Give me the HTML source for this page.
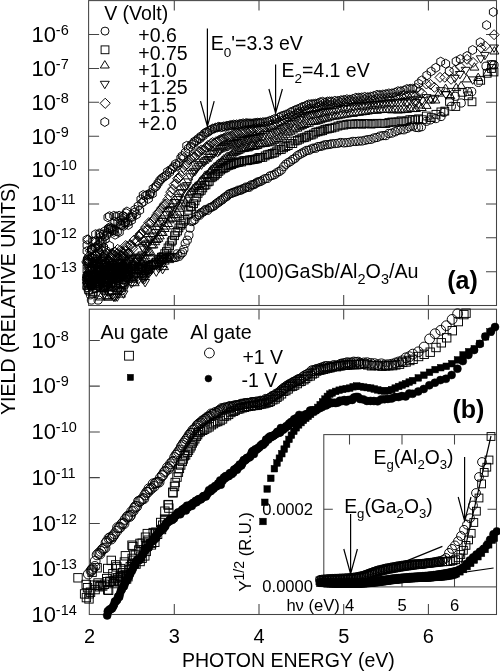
<!DOCTYPE html>
<html><head><meta charset="utf-8"><title>Photoemission yield</title>
<style>
html,body{margin:0;padding:0;background:#fff;}
svg{display:block;}
text{font-family:'Liberation Sans', Arial, Helvetica, sans-serif;fill:#000;}
.mk{fill:none;stroke:#000;stroke-width:0.95;}
.mkf{fill:#000;stroke:#000;stroke-width:0.5;}
.ax{fill:none;stroke:#444;stroke-width:1.05;}
.ln{fill:none;stroke:#000;stroke-width:1.2;}
</style></head>
<body>
<svg width="500" height="672" viewBox="0 0 500 672">
<rect width="500" height="672" fill="#fff"/>
<rect class="ax" x="88.6" y="0.6" width="407.9" height="304.9"/>
<path class="ax" d="M88.6 34.5h10.5M496.5 34.5h-10.5M88.6 68.4h10.5M496.5 68.4h-10.5M88.6 102.3h10.5M496.5 102.3h-10.5M88.6 136.2h10.5M496.5 136.2h-10.5M88.6 170.0h10.5M496.5 170.0h-10.5M88.6 203.9h10.5M496.5 203.9h-10.5M88.6 237.8h10.5M496.5 237.8h-10.5M88.6 271.7h10.5M496.5 271.7h-10.5M174.3 0.6v10M174.3 305.5v-10.5M259.0 0.6v10M259.0 305.5v-10.5M343.7 0.6v10M343.7 305.5v-10.5M428.4 0.6v10M428.4 305.5v-10.5"/>
<text x="31.6" y="41.8" font-size="22">10</text><text x="55.8" y="34.8" font-size="14.5">-6</text>
<text x="31.6" y="75.7" font-size="22">10</text><text x="55.8" y="68.7" font-size="14.5">-7</text>
<text x="31.6" y="109.6" font-size="22">10</text><text x="55.8" y="102.6" font-size="14.5">-8</text>
<text x="31.6" y="143.5" font-size="22">10</text><text x="55.8" y="136.5" font-size="14.5">-9</text>
<text x="31.6" y="177.3" font-size="22">10</text><text x="55.8" y="170.3" font-size="14.5">-10</text>
<text x="31.6" y="211.2" font-size="22">10</text><text x="55.8" y="204.2" font-size="14.5">-11</text>
<text x="31.6" y="245.1" font-size="22">10</text><text x="55.8" y="238.1" font-size="14.5">-12</text>
<text x="31.6" y="279.0" font-size="22">10</text><text x="55.8" y="272.0" font-size="14.5">-13</text>
<rect class="ax" x="89.3" y="309.2" width="407.2" height="305.3"/>
<path class="ax" d="M89.3 340.4h10.5M89.3 386.1h10.5M89.3 431.9h10.5M89.3 477.6h10.5M89.3 523.4h10.5M89.3 569.1h10.5M174.3 309.2v10.3M174.3 614.5v-10.5M259.0 309.2v10.3M259.0 614.5v-10.5M343.7 309.2v10.3M343.7 614.5v-10.5M428.4 309.2v10.3M428.4 614.5v-10.5"/>
<text x="31.6" y="347.7" font-size="22">10</text><text x="55.8" y="340.7" font-size="14.5">-8</text>
<text x="31.6" y="393.4" font-size="22">10</text><text x="55.8" y="386.4" font-size="14.5">-9</text>
<text x="31.6" y="439.2" font-size="22">10</text><text x="55.8" y="432.2" font-size="14.5">-10</text>
<text x="31.6" y="484.9" font-size="22">10</text><text x="55.8" y="477.9" font-size="14.5">-11</text>
<text x="31.6" y="530.7" font-size="22">10</text><text x="55.8" y="523.7" font-size="14.5">-12</text>
<text x="31.6" y="576.4" font-size="22">10</text><text x="55.8" y="569.4" font-size="14.5">-13</text>
<text x="31.6" y="622.2" font-size="22">10</text><text x="55.8" y="615.2" font-size="14.5">-14</text>
<text x="89.6" y="642.6" font-size="20" text-anchor="middle">2</text>
<text x="174.3" y="642.6" font-size="20" text-anchor="middle">3</text>
<text x="259.0" y="642.6" font-size="20" text-anchor="middle">4</text>
<text x="343.7" y="642.6" font-size="20" text-anchor="middle">5</text>
<text x="428.4" y="642.6" font-size="20" text-anchor="middle">6</text>
<text x="182" y="667.4" font-size="19.5">PHOTON ENERGY (eV)</text>
<text transform="translate(14.6,415) rotate(-90)" font-size="19.6">YIELD (RELATIVE UNITS)</text>
<text x="104.2" y="19.6" font-size="19.5">V (Volt)</text>
<text x="138.3" y="41.6" font-size="19.5">+0.6</text>
<text x="138.3" y="59.5" font-size="19.5">+0.75</text>
<text x="138.3" y="76.8" font-size="19.5">+1.0</text>
<text x="138.3" y="94.1" font-size="19.5">+1.25</text>
<text x="138.3" y="111.7" font-size="19.5">+1.5</text>
<text x="138.3" y="129.6" font-size="19.5">+2.0</text>
<g class="mk"><circle cx="105.0" cy="31.1" r="4.00"/><rect x="101.1" y="45.9" width="7.8" height="7.8"/><path d="M104.8 60.6L109.3 68.0H100.3Z"/><path d="M104.8 88.7L109.3 81.3H100.3Z"/><path d="M105.2 98.2L110.3 103.3L105.2 108.4L100.1 103.3Z"/><path d="M104.8 117.5L108.7 119.8V124.2L104.8 126.5L100.9 124.2V119.8Z"/></g>
<path class="ln" stroke-width="1.3" d="M207.4 28.4V126.4M200.5 101.2L207.4 126.4L214.2 101.2M275.6 64.5V113.1M268.9 89L275.6 113.1L282.4 89"/>
<text x="210.8" y="50.2" font-size="19.5">E<tspan font-size="13.5" dy="6.4">0</tspan><tspan dy="-6.4">'=3.3 eV</tspan></text>
<text x="281.4" y="77" font-size="19.5">E<tspan font-size="13.5" dy="6.4">2</tspan><tspan dy="-6.4">=4.1 eV</tspan></text>
<text x="238.2" y="278.3" font-size="19.7">(100)GaSb/Al<tspan font-size="14.5" dy="5.3">2</tspan><tspan dy="-5.3">O</tspan><tspan font-size="14.5" dy="5.3">3</tspan><tspan dy="-5.3">/Au</tspan></text>
<text x="447.3" y="289.3" font-size="25" font-weight="bold">(a)</text>
<text x="100.5" y="339.4" font-size="19.7">Au gate</text>
<text x="190.3" y="339.2" font-size="19.7">Al gate</text>
<text x="242.4" y="363.6" font-size="19.5">+1 V</text>
<text x="241.4" y="387" font-size="19.5">-1 V</text>
<g class="mk"><rect x="124.6" y="351.3" width="8.8" height="8.8"/><circle cx="209.4" cy="353.0" r="4.90"/></g>
<g class="mkf"><rect x="127.3" y="374.3" width="6.2" height="6.2"/><circle cx="208.4" cy="378.6" r="3.40"/></g>
<text x="452.5" y="418.3" font-size="25" font-weight="bold">(b)</text>
<g class="mk"><circle cx="87.8" cy="276.2" r="4.10"/><circle cx="87.0" cy="287.4" r="4.10"/><circle cx="87.0" cy="275.5" r="4.10"/><circle cx="87.8" cy="284.2" r="4.10"/><circle cx="87.0" cy="276.3" r="4.10"/><circle cx="88.2" cy="275.8" r="4.10"/><circle cx="90.4" cy="294.8" r="4.10"/><circle cx="88.4" cy="291.0" r="4.10"/><circle cx="91.4" cy="300.0" r="4.10"/><circle cx="91.9" cy="282.4" r="4.10"/><circle cx="92.1" cy="284.9" r="4.10"/><circle cx="90.9" cy="285.2" r="4.10"/><circle cx="91.4" cy="285.9" r="4.10"/><circle cx="93.7" cy="288.6" r="4.10"/><circle cx="94.5" cy="272.7" r="4.10"/><circle cx="95.5" cy="288.5" r="4.10"/><circle cx="95.4" cy="274.8" r="4.10"/><circle cx="95.4" cy="284.0" r="4.10"/><circle cx="98.1" cy="300.0" r="4.10"/><circle cx="98.2" cy="283.6" r="4.10"/><circle cx="97.2" cy="282.1" r="4.10"/><circle cx="97.0" cy="287.8" r="4.10"/><circle cx="100.4" cy="284.4" r="4.10"/><circle cx="99.4" cy="277.7" r="4.10"/><circle cx="98.6" cy="294.7" r="4.10"/><circle cx="100.0" cy="280.6" r="4.10"/><circle cx="103.3" cy="289.1" r="4.10"/><circle cx="101.8" cy="280.0" r="4.10"/><circle cx="103.8" cy="290.6" r="4.10"/><circle cx="102.6" cy="286.9" r="4.10"/><circle cx="105.6" cy="287.6" r="4.10"/><circle cx="105.5" cy="285.9" r="4.10"/><circle cx="103.9" cy="286.3" r="4.10"/><circle cx="104.4" cy="285.9" r="4.10"/><circle cx="106.6" cy="284.1" r="4.10"/><circle cx="106.8" cy="279.8" r="4.10"/><circle cx="106.4" cy="286.1" r="4.10"/><circle cx="108.7" cy="290.9" r="4.10"/><circle cx="107.9" cy="286.9" r="4.10"/><circle cx="108.7" cy="286.4" r="4.10"/><circle cx="109.4" cy="291.8" r="4.10"/><circle cx="111.8" cy="281.0" r="4.10"/><circle cx="112.3" cy="283.8" r="4.10"/><circle cx="112.2" cy="287.3" r="4.10"/><circle cx="111.6" cy="294.4" r="4.10"/><circle cx="112.3" cy="290.9" r="4.10"/><circle cx="113.0" cy="282.8" r="4.10"/><circle cx="113.0" cy="277.9" r="4.10"/><circle cx="114.1" cy="287.3" r="4.10"/><circle cx="115.7" cy="285.2" r="4.10"/><circle cx="117.3" cy="278.3" r="4.10"/><circle cx="116.6" cy="285.3" r="4.10"/><circle cx="116.3" cy="273.5" r="4.10"/><circle cx="116.9" cy="277.4" r="4.10"/><circle cx="117.7" cy="288.2" r="4.10"/><circle cx="118.2" cy="276.8" r="4.10"/><circle cx="118.8" cy="280.4" r="4.10"/><circle cx="121.4" cy="270.9" r="4.10"/><circle cx="120.6" cy="285.0" r="4.10"/><circle cx="120.4" cy="276.9" r="4.10"/><circle cx="121.4" cy="290.7" r="4.10"/><circle cx="123.1" cy="282.9" r="4.10"/><circle cx="123.4" cy="279.9" r="4.10"/><circle cx="123.3" cy="287.4" r="4.10"/><circle cx="123.4" cy="282.7" r="4.10"/><circle cx="124.4" cy="285.2" r="4.10"/><circle cx="125.9" cy="272.6" r="4.10"/><circle cx="125.7" cy="276.7" r="4.10"/><circle cx="125.7" cy="281.3" r="4.10"/><circle cx="126.9" cy="277.7" r="4.10"/><circle cx="127.3" cy="277.6" r="4.10"/><circle cx="128.3" cy="279.0" r="4.10"/><circle cx="129.5" cy="276.5" r="4.10"/><circle cx="131.8" cy="277.0" r="4.10"/><circle cx="132.6" cy="281.9" r="4.10"/><circle cx="133.6" cy="276.3" r="4.10"/><circle cx="133.7" cy="276.8" r="4.10"/><circle cx="136.5" cy="276.4" r="4.10"/><circle cx="136.2" cy="273.2" r="4.10"/><circle cx="138.4" cy="268.4" r="4.10"/><circle cx="139.1" cy="270.2" r="4.10"/><circle cx="141.3" cy="274.1" r="4.10"/><circle cx="142.1" cy="275.7" r="4.10"/><circle cx="143.5" cy="273.8" r="4.10"/><circle cx="144.6" cy="271.7" r="4.10"/><circle cx="145.9" cy="268.3" r="4.10"/><circle cx="147.0" cy="269.1" r="4.10"/><circle cx="148.2" cy="271.9" r="4.10"/><circle cx="149.3" cy="266.7" r="4.10"/><circle cx="150.3" cy="269.4" r="4.10"/><circle cx="151.9" cy="266.0" r="4.10"/><circle cx="153.5" cy="264.7" r="4.10"/><circle cx="155.2" cy="265.0" r="4.10"/><circle cx="156.7" cy="263.1" r="4.10"/><circle cx="158.3" cy="261.3" r="4.10"/><circle cx="159.8" cy="259.6" r="4.10"/><circle cx="161.2" cy="258.0" r="4.10"/><circle cx="163.1" cy="259.1" r="4.10"/><circle cx="164.6" cy="259.2" r="4.10"/><circle cx="166.1" cy="258.0" r="4.10"/><circle cx="167.9" cy="257.3" r="4.10"/><circle cx="169.6" cy="256.5" r="4.10"/><circle cx="170.9" cy="257.5" r="4.10"/><circle cx="172.7" cy="257.6" r="4.10"/><circle cx="174.5" cy="257.4" r="4.10"/><circle cx="175.9" cy="257.5" r="4.10"/><circle cx="177.3" cy="253.9" r="4.10"/><circle cx="179.1" cy="256.3" r="4.10"/><circle cx="180.8" cy="254.1" r="4.10"/><circle cx="182.5" cy="252.6" r="4.10"/><circle cx="183.9" cy="249.4" r="4.10"/><circle cx="185.2" cy="243.5" r="4.10"/><circle cx="187.3" cy="240.2" r="4.10"/><circle cx="188.9" cy="235.3" r="4.10"/><circle cx="190.0" cy="228.0" r="4.10"/><circle cx="191.6" cy="221.5" r="4.10"/><circle cx="193.2" cy="220.7" r="4.10"/><circle cx="194.9" cy="219.5" r="4.10"/><circle cx="196.5" cy="216.4" r="4.10"/><circle cx="198.4" cy="214.7" r="4.10"/><circle cx="199.5" cy="215.2" r="4.10"/><circle cx="201.1" cy="212.8" r="4.10"/><circle cx="203.1" cy="212.0" r="4.10"/><circle cx="204.6" cy="210.6" r="4.10"/><circle cx="206.0" cy="209.4" r="4.10"/><circle cx="207.6" cy="210.3" r="4.10"/><circle cx="209.5" cy="208.0" r="4.10"/><circle cx="210.9" cy="207.4" r="4.10"/><circle cx="212.6" cy="206.6" r="4.10"/><circle cx="214.2" cy="205.7" r="4.10"/><circle cx="215.9" cy="204.0" r="4.10"/><circle cx="217.5" cy="202.9" r="4.10"/><circle cx="219.0" cy="202.0" r="4.10"/><circle cx="220.5" cy="200.5" r="4.10"/><circle cx="222.2" cy="199.8" r="4.10"/><circle cx="223.7" cy="198.2" r="4.10"/><circle cx="225.4" cy="197.0" r="4.10"/><circle cx="227.0" cy="196.2" r="4.10"/><circle cx="228.6" cy="194.4" r="4.10"/><circle cx="230.3" cy="193.5" r="4.10"/><circle cx="231.9" cy="193.2" r="4.10"/><circle cx="233.4" cy="192.3" r="4.10"/><circle cx="235.0" cy="192.0" r="4.10"/><circle cx="236.7" cy="191.4" r="4.10"/><circle cx="238.3" cy="190.2" r="4.10"/><circle cx="239.9" cy="190.3" r="4.10"/><circle cx="241.4" cy="189.8" r="4.10"/><circle cx="242.9" cy="188.8" r="4.10"/><circle cx="244.6" cy="188.2" r="4.10"/><circle cx="246.2" cy="187.1" r="4.10"/><circle cx="247.9" cy="187.3" r="4.10"/><circle cx="249.5" cy="187.1" r="4.10"/><circle cx="251.0" cy="185.1" r="4.10"/><circle cx="252.7" cy="184.8" r="4.10"/><circle cx="254.1" cy="184.5" r="4.10"/><circle cx="255.8" cy="183.3" r="4.10"/><circle cx="257.4" cy="182.2" r="4.10"/><circle cx="258.9" cy="181.8" r="4.10"/><circle cx="260.7" cy="181.3" r="4.10"/><circle cx="262.8" cy="180.0" r="4.10"/><circle cx="265.1" cy="178.7" r="4.10"/><circle cx="267.4" cy="178.4" r="4.10"/><circle cx="269.9" cy="176.1" r="4.10"/><circle cx="272.1" cy="175.4" r="4.10"/><circle cx="274.5" cy="174.6" r="4.10"/><circle cx="276.6" cy="172.9" r="4.10"/><circle cx="279.0" cy="171.6" r="4.10"/><circle cx="281.3" cy="170.0" r="4.10"/><circle cx="283.7" cy="166.7" r="4.10"/><circle cx="285.9" cy="164.3" r="4.10"/><circle cx="288.3" cy="162.6" r="4.10"/><circle cx="290.6" cy="161.3" r="4.10"/><circle cx="292.9" cy="159.4" r="4.10"/><circle cx="295.1" cy="158.2" r="4.10"/><circle cx="297.4" cy="155.8" r="4.10"/><circle cx="299.7" cy="154.4" r="4.10"/><circle cx="302.1" cy="153.1" r="4.10"/><circle cx="304.3" cy="151.9" r="4.10"/><circle cx="306.6" cy="150.4" r="4.10"/><circle cx="308.9" cy="150.3" r="4.10"/><circle cx="311.2" cy="149.0" r="4.10"/><circle cx="313.5" cy="148.1" r="4.10"/><circle cx="315.8" cy="148.2" r="4.10"/><circle cx="318.1" cy="146.6" r="4.10"/><circle cx="320.5" cy="146.4" r="4.10"/><circle cx="322.8" cy="145.8" r="4.10"/><circle cx="324.9" cy="144.8" r="4.10"/><circle cx="327.3" cy="144.7" r="4.10"/><circle cx="329.7" cy="144.4" r="4.10"/><circle cx="331.8" cy="143.8" r="4.10"/><circle cx="334.9" cy="143.6" r="4.10"/><circle cx="337.9" cy="143.3" r="4.10"/><circle cx="340.8" cy="142.5" r="4.10"/><circle cx="343.9" cy="142.9" r="4.10"/><circle cx="346.8" cy="142.6" r="4.10"/><circle cx="349.8" cy="142.3" r="4.10"/><circle cx="352.9" cy="141.4" r="4.10"/><circle cx="355.9" cy="141.5" r="4.10"/><circle cx="358.8" cy="141.1" r="4.10"/><circle cx="361.9" cy="141.0" r="4.10"/><circle cx="365.0" cy="140.3" r="4.10"/><circle cx="367.9" cy="139.6" r="4.10"/><circle cx="371.0" cy="139.3" r="4.10"/><circle cx="374.0" cy="138.0" r="4.10"/><circle cx="376.9" cy="137.5" r="4.10"/><circle cx="380.0" cy="136.1" r="4.10"/><circle cx="383.0" cy="135.6" r="4.10"/><circle cx="385.8" cy="135.6" r="4.10"/><circle cx="388.8" cy="133.5" r="4.10"/><circle cx="391.8" cy="133.1" r="4.10"/><circle cx="395.0" cy="131.8" r="4.10"/><circle cx="397.8" cy="130.5" r="4.10"/><circle cx="400.8" cy="129.7" r="4.10"/><circle cx="403.8" cy="129.8" r="4.10"/><circle cx="407.0" cy="128.4" r="4.10"/><circle cx="409.7" cy="126.8" r="4.10"/><circle cx="412.9" cy="126.1" r="4.10"/><circle cx="416.0" cy="127.4" r="4.10"/><circle cx="418.5" cy="127.6" r="4.10"/><circle cx="421.4" cy="126.7" r="4.10"/><circle cx="426.3" cy="121.3" r="4.10"/><circle cx="430.1" cy="119.9" r="4.10"/><circle cx="435.8" cy="118.6" r="4.10"/><circle cx="441.0" cy="116.5" r="4.10"/><circle cx="444.1" cy="112.3" r="4.10"/><circle cx="451.4" cy="106.3" r="4.10"/><circle cx="455.2" cy="96.3" r="4.10"/><circle cx="461.2" cy="103.0" r="4.10"/><circle cx="467.5" cy="91.5" r="4.10"/><circle cx="471.7" cy="91.6" r="4.10"/><circle cx="478.5" cy="82.4" r="4.10"/><circle cx="486.0" cy="66.2" r="4.10"/><circle cx="492.0" cy="64.6" r="4.10"/><circle cx="494.0" cy="65.0" r="4.10"/></g>
<g class="mk"><rect x="83.1" y="264.8" width="7.8" height="7.8"/><rect x="83.1" y="276.4" width="7.8" height="7.8"/><rect x="83.1" y="281.4" width="7.8" height="7.8"/><rect x="85.2" y="275.2" width="7.8" height="7.8"/><rect x="84.7" y="271.3" width="7.8" height="7.8"/><rect x="85.8" y="266.0" width="7.8" height="7.8"/><rect x="84.3" y="279.0" width="7.8" height="7.8"/><rect x="87.9" y="280.2" width="7.8" height="7.8"/><rect x="85.2" y="285.9" width="7.8" height="7.8"/><rect x="88.2" y="278.8" width="7.8" height="7.8"/><rect x="89.4" y="270.9" width="7.8" height="7.8"/><rect x="86.8" y="279.9" width="7.8" height="7.8"/><rect x="89.3" y="287.5" width="7.8" height="7.8"/><rect x="88.3" y="279.5" width="7.8" height="7.8"/><rect x="89.0" y="289.5" width="7.8" height="7.8"/><rect x="90.8" y="272.8" width="7.8" height="7.8"/><rect x="92.2" y="277.6" width="7.8" height="7.8"/><rect x="91.0" y="278.0" width="7.8" height="7.8"/><rect x="91.7" y="273.3" width="7.8" height="7.8"/><rect x="94.7" y="272.0" width="7.8" height="7.8"/><rect x="94.4" y="268.7" width="7.8" height="7.8"/><rect x="94.6" y="277.5" width="7.8" height="7.8"/><rect x="96.1" y="272.6" width="7.8" height="7.8"/><rect x="97.6" y="274.7" width="7.8" height="7.8"/><rect x="96.0" y="282.2" width="7.8" height="7.8"/><rect x="96.6" y="272.3" width="7.8" height="7.8"/><rect x="96.4" y="270.3" width="7.8" height="7.8"/><rect x="97.4" y="265.5" width="7.8" height="7.8"/><rect x="100.0" y="269.0" width="7.8" height="7.8"/><rect x="99.5" y="278.5" width="7.8" height="7.8"/><rect x="99.9" y="283.6" width="7.8" height="7.8"/><rect x="100.8" y="275.1" width="7.8" height="7.8"/><rect x="100.9" y="274.2" width="7.8" height="7.8"/><rect x="102.8" y="278.8" width="7.8" height="7.8"/><rect x="101.5" y="278.5" width="7.8" height="7.8"/><rect x="103.7" y="277.1" width="7.8" height="7.8"/><rect x="103.2" y="277.1" width="7.8" height="7.8"/><rect x="104.7" y="273.8" width="7.8" height="7.8"/><rect x="104.0" y="278.3" width="7.8" height="7.8"/><rect x="104.8" y="274.6" width="7.8" height="7.8"/><rect x="106.0" y="259.9" width="7.8" height="7.8"/><rect x="108.1" y="274.5" width="7.8" height="7.8"/><rect x="106.9" y="278.2" width="7.8" height="7.8"/><rect x="107.0" y="282.2" width="7.8" height="7.8"/><rect x="107.0" y="272.3" width="7.8" height="7.8"/><rect x="108.4" y="261.5" width="7.8" height="7.8"/><rect x="109.0" y="272.8" width="7.8" height="7.8"/><rect x="108.9" y="267.8" width="7.8" height="7.8"/><rect x="112.3" y="278.4" width="7.8" height="7.8"/><rect x="112.9" y="273.5" width="7.8" height="7.8"/><rect x="111.6" y="270.8" width="7.8" height="7.8"/><rect x="113.5" y="271.7" width="7.8" height="7.8"/><rect x="112.6" y="274.8" width="7.8" height="7.8"/><rect x="114.0" y="266.0" width="7.8" height="7.8"/><rect x="113.9" y="265.3" width="7.8" height="7.8"/><rect x="116.3" y="272.2" width="7.8" height="7.8"/><rect x="115.2" y="273.2" width="7.8" height="7.8"/><rect x="117.3" y="269.5" width="7.8" height="7.8"/><rect x="116.9" y="269.2" width="7.8" height="7.8"/><rect x="118.0" y="280.6" width="7.8" height="7.8"/><rect x="117.6" y="269.9" width="7.8" height="7.8"/><rect x="118.1" y="267.9" width="7.8" height="7.8"/><rect x="118.4" y="267.9" width="7.8" height="7.8"/><rect x="120.8" y="264.8" width="7.8" height="7.8"/><rect x="120.3" y="267.7" width="7.8" height="7.8"/><rect x="122.2" y="271.5" width="7.8" height="7.8"/><rect x="122.7" y="265.0" width="7.8" height="7.8"/><rect x="123.3" y="267.9" width="7.8" height="7.8"/><rect x="123.1" y="269.9" width="7.8" height="7.8"/><rect x="124.4" y="265.8" width="7.8" height="7.8"/><rect x="123.8" y="270.6" width="7.8" height="7.8"/><rect x="124.4" y="264.8" width="7.8" height="7.8"/><rect x="124.9" y="268.6" width="7.8" height="7.8"/><rect x="127.5" y="264.5" width="7.8" height="7.8"/><rect x="129.1" y="273.1" width="7.8" height="7.8"/><rect x="130.3" y="265.0" width="7.8" height="7.8"/><rect x="130.5" y="262.6" width="7.8" height="7.8"/><rect x="131.2" y="266.3" width="7.8" height="7.8"/><rect x="133.8" y="265.6" width="7.8" height="7.8"/><rect x="134.6" y="268.5" width="7.8" height="7.8"/><rect x="134.9" y="262.9" width="7.8" height="7.8"/><rect x="136.7" y="265.0" width="7.8" height="7.8"/><rect x="137.6" y="264.8" width="7.8" height="7.8"/><rect x="139.0" y="263.0" width="7.8" height="7.8"/><rect x="139.9" y="263.2" width="7.8" height="7.8"/><rect x="141.0" y="266.7" width="7.8" height="7.8"/><rect x="143.0" y="262.6" width="7.8" height="7.8"/><rect x="144.1" y="265.5" width="7.8" height="7.8"/><rect x="144.7" y="263.9" width="7.8" height="7.8"/><rect x="146.3" y="261.5" width="7.8" height="7.8"/><rect x="148.0" y="260.4" width="7.8" height="7.8"/><rect x="149.4" y="260.3" width="7.8" height="7.8"/><rect x="151.3" y="259.0" width="7.8" height="7.8"/><rect x="152.5" y="258.2" width="7.8" height="7.8"/><rect x="154.2" y="255.9" width="7.8" height="7.8"/><rect x="155.9" y="255.1" width="7.8" height="7.8"/><rect x="157.5" y="253.3" width="7.8" height="7.8"/><rect x="159.2" y="253.0" width="7.8" height="7.8"/><rect x="160.8" y="249.8" width="7.8" height="7.8"/><rect x="162.5" y="247.7" width="7.8" height="7.8"/><rect x="164.1" y="244.0" width="7.8" height="7.8"/><rect x="165.7" y="241.9" width="7.8" height="7.8"/><rect x="167.3" y="238.0" width="7.8" height="7.8"/><rect x="168.6" y="236.4" width="7.8" height="7.8"/><rect x="170.6" y="231.8" width="7.8" height="7.8"/><rect x="171.9" y="228.6" width="7.8" height="7.8"/><rect x="173.7" y="227.1" width="7.8" height="7.8"/><rect x="175.0" y="224.0" width="7.8" height="7.8"/><rect x="176.6" y="221.3" width="7.8" height="7.8"/><rect x="178.0" y="219.7" width="7.8" height="7.8"/><rect x="179.7" y="217.1" width="7.8" height="7.8"/><rect x="181.1" y="215.5" width="7.8" height="7.8"/><rect x="183.5" y="211.0" width="7.8" height="7.8"/><rect x="184.8" y="206.4" width="7.8" height="7.8"/><rect x="186.6" y="202.4" width="7.8" height="7.8"/><rect x="187.8" y="203.0" width="7.8" height="7.8"/><rect x="189.7" y="199.8" width="7.8" height="7.8"/><rect x="191.2" y="197.0" width="7.8" height="7.8"/><rect x="192.8" y="193.4" width="7.8" height="7.8"/><rect x="194.2" y="189.5" width="7.8" height="7.8"/><rect x="195.8" y="187.3" width="7.8" height="7.8"/><rect x="197.4" y="186.4" width="7.8" height="7.8"/><rect x="198.9" y="184.0" width="7.8" height="7.8"/><rect x="200.6" y="181.4" width="7.8" height="7.8"/><rect x="202.1" y="181.0" width="7.8" height="7.8"/><rect x="204.1" y="178.0" width="7.8" height="7.8"/><rect x="205.4" y="177.4" width="7.8" height="7.8"/><rect x="207.2" y="173.9" width="7.8" height="7.8"/><rect x="208.8" y="173.0" width="7.8" height="7.8"/><rect x="210.4" y="171.9" width="7.8" height="7.8"/><rect x="211.7" y="170.4" width="7.8" height="7.8"/><rect x="213.4" y="169.6" width="7.8" height="7.8"/><rect x="215.0" y="167.5" width="7.8" height="7.8"/><rect x="216.8" y="166.1" width="7.8" height="7.8"/><rect x="218.2" y="164.9" width="7.8" height="7.8"/><rect x="219.9" y="164.3" width="7.8" height="7.8"/><rect x="221.4" y="163.6" width="7.8" height="7.8"/><rect x="223.1" y="162.2" width="7.8" height="7.8"/><rect x="224.7" y="161.5" width="7.8" height="7.8"/><rect x="226.3" y="161.1" width="7.8" height="7.8"/><rect x="227.9" y="160.7" width="7.8" height="7.8"/><rect x="229.5" y="159.7" width="7.8" height="7.8"/><rect x="231.1" y="159.3" width="7.8" height="7.8"/><rect x="232.7" y="158.8" width="7.8" height="7.8"/><rect x="234.4" y="158.6" width="7.8" height="7.8"/><rect x="235.9" y="157.9" width="7.8" height="7.8"/><rect x="237.6" y="158.1" width="7.8" height="7.8"/><rect x="239.1" y="156.9" width="7.8" height="7.8"/><rect x="240.7" y="156.7" width="7.8" height="7.8"/><rect x="242.4" y="156.9" width="7.8" height="7.8"/><rect x="243.8" y="156.6" width="7.8" height="7.8"/><rect x="245.4" y="156.1" width="7.8" height="7.8"/><rect x="247.0" y="156.0" width="7.8" height="7.8"/><rect x="248.6" y="155.6" width="7.8" height="7.8"/><rect x="250.3" y="155.5" width="7.8" height="7.8"/><rect x="252.0" y="155.1" width="7.8" height="7.8"/><rect x="253.6" y="154.8" width="7.8" height="7.8"/><rect x="255.0" y="153.7" width="7.8" height="7.8"/><rect x="256.7" y="153.5" width="7.8" height="7.8"/><rect x="258.9" y="153.5" width="7.8" height="7.8"/><rect x="261.3" y="152.0" width="7.8" height="7.8"/><rect x="263.6" y="150.8" width="7.8" height="7.8"/><rect x="265.9" y="150.3" width="7.8" height="7.8"/><rect x="268.3" y="149.5" width="7.8" height="7.8"/><rect x="270.6" y="148.9" width="7.8" height="7.8"/><rect x="272.8" y="147.1" width="7.8" height="7.8"/><rect x="275.1" y="145.8" width="7.8" height="7.8"/><rect x="277.4" y="145.6" width="7.8" height="7.8"/><rect x="279.7" y="143.9" width="7.8" height="7.8"/><rect x="282.0" y="142.6" width="7.8" height="7.8"/><rect x="284.3" y="141.7" width="7.8" height="7.8"/><rect x="286.6" y="139.7" width="7.8" height="7.8"/><rect x="288.9" y="139.7" width="7.8" height="7.8"/><rect x="291.1" y="137.1" width="7.8" height="7.8"/><rect x="293.5" y="136.4" width="7.8" height="7.8"/><rect x="295.7" y="135.3" width="7.8" height="7.8"/><rect x="298.0" y="134.1" width="7.8" height="7.8"/><rect x="300.4" y="133.8" width="7.8" height="7.8"/><rect x="302.6" y="133.0" width="7.8" height="7.8"/><rect x="305.0" y="131.4" width="7.8" height="7.8"/><rect x="307.3" y="131.1" width="7.8" height="7.8"/><rect x="309.5" y="130.1" width="7.8" height="7.8"/><rect x="311.9" y="128.4" width="7.8" height="7.8"/><rect x="314.2" y="127.9" width="7.8" height="7.8"/><rect x="316.6" y="127.2" width="7.8" height="7.8"/><rect x="318.8" y="126.8" width="7.8" height="7.8"/><rect x="321.0" y="125.4" width="7.8" height="7.8"/><rect x="323.4" y="125.1" width="7.8" height="7.8"/><rect x="325.7" y="124.5" width="7.8" height="7.8"/><rect x="328.0" y="124.1" width="7.8" height="7.8"/><rect x="331.0" y="123.3" width="7.8" height="7.8"/><rect x="334.0" y="122.2" width="7.8" height="7.8"/><rect x="337.0" y="121.3" width="7.8" height="7.8"/><rect x="339.9" y="121.2" width="7.8" height="7.8"/><rect x="342.9" y="120.4" width="7.8" height="7.8"/><rect x="346.1" y="120.0" width="7.8" height="7.8"/><rect x="348.9" y="120.4" width="7.8" height="7.8"/><rect x="352.0" y="119.8" width="7.8" height="7.8"/><rect x="354.9" y="119.6" width="7.8" height="7.8"/><rect x="357.9" y="120.4" width="7.8" height="7.8"/><rect x="361.0" y="119.5" width="7.8" height="7.8"/><rect x="364.0" y="119.5" width="7.8" height="7.8"/><rect x="367.1" y="120.2" width="7.8" height="7.8"/><rect x="370.0" y="119.8" width="7.8" height="7.8"/><rect x="373.0" y="119.4" width="7.8" height="7.8"/><rect x="376.1" y="119.7" width="7.8" height="7.8"/><rect x="379.0" y="119.4" width="7.8" height="7.8"/><rect x="382.0" y="119.6" width="7.8" height="7.8"/><rect x="385.0" y="118.6" width="7.8" height="7.8"/><rect x="388.0" y="118.1" width="7.8" height="7.8"/><rect x="391.1" y="118.2" width="7.8" height="7.8"/><rect x="394.1" y="118.0" width="7.8" height="7.8"/><rect x="397.1" y="116.9" width="7.8" height="7.8"/><rect x="399.9" y="117.8" width="7.8" height="7.8"/><rect x="402.9" y="117.1" width="7.8" height="7.8"/><rect x="405.9" y="115.8" width="7.8" height="7.8"/><rect x="408.7" y="115.8" width="7.8" height="7.8"/><rect x="411.7" y="115.9" width="7.8" height="7.8"/><rect x="414.7" y="114.9" width="7.8" height="7.8"/><rect x="418.4" y="115.8" width="7.8" height="7.8"/><rect x="422.4" y="112.1" width="7.8" height="7.8"/><rect x="427.4" y="113.7" width="7.8" height="7.8"/><rect x="432.0" y="110.4" width="7.8" height="7.8"/><rect x="437.0" y="108.0" width="7.8" height="7.8"/><rect x="440.9" y="107.2" width="7.8" height="7.8"/><rect x="445.6" y="97.5" width="7.8" height="7.8"/><rect x="451.9" y="102.6" width="7.8" height="7.8"/><rect x="458.3" y="88.4" width="7.8" height="7.8"/><rect x="464.6" y="91.9" width="7.8" height="7.8"/><rect x="468.1" y="97.9" width="7.8" height="7.8"/><rect x="476.8" y="76.4" width="7.8" height="7.8"/><rect x="483.3" y="69.4" width="7.8" height="7.8"/><rect x="487.6" y="64.6" width="7.8" height="7.8"/><rect x="490.1" y="68.1" width="7.8" height="7.8"/></g>
<g class="mk"><path d="M87.0 270.7L91.5 278.1H82.5Z"/><path d="M88.1 281.8L92.6 289.2H83.6Z"/><path d="M87.0 273.1L91.5 280.5H82.5Z"/><path d="M87.0 275.7L91.5 283.1H82.5Z"/><path d="M88.5 270.7L93.0 278.1H84.0Z"/><path d="M87.8 267.4L92.3 274.8H83.3Z"/><path d="M91.0 268.9L95.5 276.3H86.5Z"/><path d="M90.6 277.7L95.1 285.1H86.1Z"/><path d="M89.4 276.1L93.9 283.5H84.9Z"/><path d="M92.9 271.2L97.4 278.6H88.4Z"/><path d="M93.3 275.0L97.8 282.4H88.8Z"/><path d="M93.6 259.6L98.1 267.0H89.1Z"/><path d="M92.3 281.4L96.8 288.8H87.8Z"/><path d="M95.1 266.9L99.6 274.3H90.6Z"/><path d="M94.6 259.7L99.1 267.1H90.1Z"/><path d="M94.7 271.2L99.2 278.6H90.2Z"/><path d="M94.9 265.9L99.4 273.3H90.4Z"/><path d="M94.8 275.1L99.3 282.5H90.3Z"/><path d="M98.6 274.8L103.1 282.2H94.1Z"/><path d="M98.1 260.1L102.6 267.5H93.6Z"/><path d="M96.7 260.5L101.2 267.9H92.2Z"/><path d="M99.2 266.6L103.7 274.0H94.7Z"/><path d="M98.1 266.4L102.6 273.8H93.6Z"/><path d="M99.9 271.1L104.4 278.5H95.4Z"/><path d="M100.8 269.6L105.3 277.0H96.3Z"/><path d="M100.6 276.1L105.1 283.5H96.1Z"/><path d="M100.7 274.2L105.2 281.6H96.2Z"/><path d="M101.3 274.4L105.8 281.8H96.8Z"/><path d="M101.3 271.3L105.8 278.7H96.8Z"/><path d="M103.9 274.5L108.4 281.9H99.4Z"/><path d="M104.7 274.7L109.2 282.1H100.2Z"/><path d="M106.0 267.7L110.5 275.1H101.5Z"/><path d="M106.2 272.1L110.7 279.5H101.7Z"/><path d="M106.9 269.9L111.4 277.3H102.4Z"/><path d="M106.1 267.0L110.6 274.4H101.6Z"/><path d="M108.2 266.5L112.7 273.9H103.7Z"/><path d="M106.7 276.1L111.2 283.5H102.2Z"/><path d="M109.3 262.6L113.8 270.0H104.8Z"/><path d="M107.7 262.9L112.2 270.3H103.2Z"/><path d="M110.9 274.4L115.4 281.8H106.4Z"/><path d="M109.1 262.0L113.6 269.4H104.6Z"/><path d="M111.0 263.5L115.5 270.9H106.5Z"/><path d="M110.8 262.5L115.3 269.9H106.3Z"/><path d="M112.5 265.0L117.0 272.4H108.0Z"/><path d="M111.4 265.9L115.9 273.3H106.9Z"/><path d="M113.5 271.5L118.0 278.9H109.0Z"/><path d="M112.4 270.6L116.9 278.0H107.9Z"/><path d="M114.6 270.0L119.1 277.4H110.1Z"/><path d="M113.5 262.2L118.0 269.6H109.0Z"/><path d="M115.2 265.6L119.7 273.0H110.7Z"/><path d="M114.6 266.4L119.1 273.8H110.1Z"/><path d="M118.0 269.0L122.5 276.4H113.5Z"/><path d="M116.6 270.0L121.1 277.4H112.1Z"/><path d="M118.1 269.7L122.6 277.1H113.6Z"/><path d="M118.0 271.4L122.5 278.8H113.5Z"/><path d="M119.9 269.1L124.4 276.5H115.4Z"/><path d="M119.6 270.6L124.1 278.0H115.1Z"/><path d="M121.4 266.7L125.9 274.1H116.9Z"/><path d="M121.2 261.7L125.7 269.1H116.7Z"/><path d="M120.9 265.8L125.4 273.2H116.4Z"/><path d="M123.0 270.8L127.5 278.2H118.5Z"/><path d="M123.2 266.9L127.7 274.3H118.7Z"/><path d="M124.0 265.4L128.5 272.8H119.5Z"/><path d="M123.2 271.5L127.7 278.9H118.7Z"/><path d="M123.8 262.3L128.3 269.7H119.3Z"/><path d="M124.5 263.3L129.0 270.7H120.0Z"/><path d="M124.5 266.0L129.0 273.4H120.0Z"/><path d="M126.0 268.1L130.5 275.5H121.5Z"/><path d="M127.0 269.8L131.5 277.2H122.5Z"/><path d="M126.3 267.5L130.8 274.9H121.8Z"/><path d="M128.0 264.4L132.5 271.8H123.5Z"/><path d="M128.7 261.5L133.2 268.9H124.2Z"/><path d="M129.7 261.9L134.2 269.3H125.2Z"/><path d="M130.3 265.1L134.8 272.5H125.8Z"/><path d="M132.8 263.1L137.3 270.5H128.3Z"/><path d="M132.9 260.3L137.4 267.7H128.4Z"/><path d="M133.8 259.8L138.3 267.2H129.3Z"/><path d="M135.2 262.7L139.7 270.1H130.7Z"/><path d="M137.6 257.4L142.1 264.8H133.1Z"/><path d="M139.0 260.6L143.5 268.0H134.5Z"/><path d="M138.8 260.5L143.3 267.9H134.3Z"/><path d="M141.0 257.3L145.5 264.7H136.5Z"/><path d="M141.9 253.2L146.4 260.6H137.4Z"/><path d="M142.5 258.2L147.0 265.6H138.0Z"/><path d="M144.6 254.3L149.1 261.7H140.1Z"/><path d="M145.0 251.4L149.5 258.8H140.5Z"/><path d="M146.4 248.2L150.9 255.6H141.9Z"/><path d="M148.1 248.6L152.6 256.0H143.6Z"/><path d="M149.2 247.4L153.7 254.8H144.7Z"/><path d="M150.6 247.5L155.1 254.9H146.1Z"/><path d="M151.8 240.5L156.3 247.9H147.3Z"/><path d="M153.4 240.5L157.9 247.9H148.9Z"/><path d="M155.2 237.3L159.7 244.7H150.7Z"/><path d="M156.5 235.1L161.0 242.5H152.0Z"/><path d="M158.3 233.9L162.8 241.3H153.8Z"/><path d="M159.8 231.5L164.3 238.9H155.3Z"/><path d="M161.3 227.9L165.8 235.3H156.8Z"/><path d="M162.8 228.1L167.3 235.5H158.3Z"/><path d="M164.7 224.1L169.2 231.5H160.2Z"/><path d="M166.0 221.7L170.5 229.1H161.5Z"/><path d="M168.1 219.1L172.6 226.5H163.6Z"/><path d="M169.6 215.4L174.1 222.8H165.1Z"/><path d="M171.2 213.8L175.7 221.2H166.7Z"/><path d="M172.7 213.6L177.2 221.0H168.2Z"/><path d="M173.9 210.2L178.4 217.6H169.4Z"/><path d="M175.7 210.4L180.2 217.8H171.2Z"/><path d="M177.2 207.6L181.7 215.0H172.7Z"/><path d="M179.2 203.9L183.7 211.3H174.7Z"/><path d="M180.2 201.6L184.7 209.0H175.7Z"/><path d="M182.0 199.5L186.5 206.9H177.5Z"/><path d="M183.6 195.6L188.1 203.0H179.1Z"/><path d="M185.7 197.9L190.2 205.3H181.2Z"/><path d="M187.4 193.7L191.9 201.1H182.9Z"/><path d="M188.8 189.8L193.3 197.2H184.3Z"/><path d="M190.2 187.8L194.7 195.2H185.7Z"/><path d="M192.1 186.9L196.6 194.3H187.6Z"/><path d="M193.3 184.0L197.8 191.4H188.8Z"/><path d="M195.0 182.6L199.5 190.0H190.5Z"/><path d="M196.3 181.4L200.8 188.8H191.8Z"/><path d="M198.4 180.2L202.9 187.6H193.9Z"/><path d="M199.9 177.3L204.4 184.7H195.4Z"/><path d="M201.3 175.7L205.8 183.1H196.8Z"/><path d="M203.0 174.4L207.5 181.8H198.5Z"/><path d="M204.8 171.3L209.3 178.7H200.3Z"/><path d="M206.3 170.6L210.8 178.0H201.8Z"/><path d="M207.8 170.0L212.3 177.4H203.3Z"/><path d="M209.6 167.4L214.1 174.8H205.1Z"/><path d="M210.9 165.7L215.4 173.1H206.4Z"/><path d="M212.4 164.5L216.9 171.9H207.9Z"/><path d="M214.2 162.6L218.7 170.0H209.7Z"/><path d="M215.8 161.9L220.3 169.3H211.3Z"/><path d="M217.4 159.9L221.9 167.3H212.9Z"/><path d="M218.9 158.8L223.4 166.2H214.4Z"/><path d="M220.6 157.9L225.1 165.3H216.1Z"/><path d="M222.1 156.2L226.6 163.6H217.6Z"/><path d="M223.7 154.6L228.2 162.0H219.2Z"/><path d="M225.5 153.6L230.0 161.0H221.0Z"/><path d="M227.1 152.2L231.6 159.6H222.6Z"/><path d="M228.7 152.1L233.2 159.5H224.2Z"/><path d="M230.3 150.9L234.8 158.3H225.8Z"/><path d="M231.8 149.8L236.3 157.2H227.3Z"/><path d="M233.4 148.2L237.9 155.6H228.9Z"/><path d="M234.9 147.5L239.4 154.9H230.4Z"/><path d="M236.6 146.8L241.1 154.2H232.1Z"/><path d="M238.2 146.1L242.7 153.5H233.7Z"/><path d="M239.8 145.4L244.3 152.8H235.3Z"/><path d="M241.5 144.2L246.0 151.6H237.0Z"/><path d="M243.0 144.2L247.5 151.6H238.5Z"/><path d="M244.6 143.9L249.1 151.3H240.1Z"/><path d="M246.2 143.1L250.7 150.5H241.7Z"/><path d="M247.9 143.5L252.4 150.9H243.4Z"/><path d="M249.4 142.6L253.9 150.0H244.9Z"/><path d="M251.0 142.0L255.5 149.4H246.5Z"/><path d="M252.6 141.2L257.1 148.6H248.1Z"/><path d="M254.2 141.9L258.7 149.3H249.7Z"/><path d="M255.9 141.3L260.4 148.7H251.4Z"/><path d="M257.4 141.0L261.9 148.4H252.9Z"/><path d="M259.0 139.4L263.5 146.8H254.5Z"/><path d="M260.5 139.5L265.0 146.9H256.0Z"/><path d="M262.8 139.2L267.3 146.6H258.3Z"/><path d="M265.2 139.0L269.7 146.4H260.7Z"/><path d="M267.6 138.4L272.1 145.8H263.1Z"/><path d="M269.8 137.7L274.3 145.1H265.3Z"/><path d="M272.0 137.5L276.5 144.9H267.5Z"/><path d="M274.3 136.0L278.8 143.4H269.8Z"/><path d="M276.6 134.8L281.1 142.2H272.1Z"/><path d="M278.9 134.1L283.4 141.5H274.4Z"/><path d="M281.2 132.6L285.7 140.0H276.7Z"/><path d="M283.5 131.7L288.0 139.1H279.0Z"/><path d="M285.8 129.9L290.3 137.3H281.3Z"/><path d="M288.2 127.8L292.7 135.2H283.7Z"/><path d="M290.5 126.8L295.0 134.2H286.0Z"/><path d="M292.9 125.5L297.4 132.9H288.4Z"/><path d="M295.0 123.8L299.5 131.2H290.5Z"/><path d="M297.4 123.7L301.9 131.1H292.9Z"/><path d="M299.7 122.3L304.2 129.7H295.2Z"/><path d="M302.0 121.2L306.5 128.6H297.5Z"/><path d="M304.3 120.1L308.8 127.5H299.8Z"/><path d="M306.6 119.2L311.1 126.6H302.1Z"/><path d="M308.9 118.8L313.4 126.2H304.4Z"/><path d="M311.2 117.2L315.7 124.6H306.7Z"/><path d="M313.5 116.9L318.0 124.3H309.0Z"/><path d="M315.7 116.8L320.2 124.2H311.2Z"/><path d="M318.2 116.0L322.7 123.4H313.7Z"/><path d="M320.5 115.3L325.0 122.7H316.0Z"/><path d="M322.6 114.4L327.1 121.8H318.1Z"/><path d="M325.0 113.8L329.5 121.2H320.5Z"/><path d="M327.2 113.5L331.7 120.9H322.7Z"/><path d="M329.6 112.6L334.1 120.0H325.1Z"/><path d="M331.9 111.8L336.4 119.2H327.4Z"/><path d="M334.9 111.7L339.4 119.1H330.4Z"/><path d="M337.8 111.3L342.3 118.7H333.3Z"/><path d="M340.8 110.6L345.3 118.0H336.3Z"/><path d="M344.0 109.9L348.5 117.3H339.5Z"/><path d="M346.9 109.6L351.4 117.0H342.4Z"/><path d="M349.8 108.7L354.3 116.1H345.3Z"/><path d="M352.8 109.0L357.3 116.4H348.3Z"/><path d="M355.8 108.2L360.3 115.6H351.3Z"/><path d="M358.9 107.9L363.4 115.3H354.4Z"/><path d="M362.0 107.4L366.5 114.8H357.5Z"/><path d="M365.0 107.1L369.5 114.5H360.5Z"/><path d="M367.9 106.6L372.4 114.0H363.4Z"/><path d="M371.0 105.9L375.5 113.3H366.5Z"/><path d="M373.9 105.6L378.4 113.0H369.4Z"/><path d="M376.9 105.9L381.4 113.3H372.4Z"/><path d="M380.0 105.2L384.5 112.6H375.5Z"/><path d="M382.8 105.1L387.3 112.5H378.3Z"/><path d="M386.0 105.0L390.5 112.4H381.5Z"/><path d="M388.9 105.0L393.4 112.4H384.4Z"/><path d="M391.9 105.5L396.4 112.9H387.4Z"/><path d="M394.9 104.7L399.4 112.1H390.4Z"/><path d="M397.9 105.6L402.4 113.0H393.4Z"/><path d="M400.9 105.4L405.4 112.8H396.4Z"/><path d="M404.0 104.9L408.5 112.3H399.5Z"/><path d="M407.0 105.0L411.5 112.4H402.5Z"/><path d="M409.9 103.8L414.4 111.2H405.4Z"/><path d="M412.7 104.2L417.2 111.6H408.2Z"/><path d="M415.9 104.1L420.4 111.5H411.4Z"/><path d="M418.5 100.6L423.0 108.0H414.0Z"/><path d="M421.7 103.1L426.2 110.5H417.2Z"/><path d="M426.6 101.0L431.1 108.4H422.1Z"/><path d="M430.1 95.6L434.6 103.0H425.6Z"/><path d="M435.4 95.6L439.9 103.0H430.9Z"/><path d="M439.2 88.7L443.7 96.1H434.7Z"/><path d="M445.6 84.1L450.1 91.5H441.1Z"/><path d="M450.4 91.4L454.9 98.8H445.9Z"/><path d="M456.2 83.2L460.7 90.6H451.7Z"/><path d="M461.1 81.3L465.6 88.7H456.6Z"/><path d="M466.8 74.5L471.3 81.9H462.3Z"/><path d="M474.4 62.7L478.9 70.1H469.9Z"/><path d="M478.2 73.1L482.7 80.5H473.7Z"/><path d="M487.7 67.9L492.2 75.3H483.2Z"/><path d="M494.4 46.6L498.9 54.0H489.9Z"/></g>
<g class="mk"><path d="M87.0 284.6L91.5 277.2H82.5Z"/><path d="M88.4 282.7L92.9 275.3H83.9Z"/><path d="M88.2 275.2L92.7 267.8H83.7Z"/><path d="M88.5 281.1L93.0 273.7H84.0Z"/><path d="M88.0 272.4L92.5 265.0H83.5Z"/><path d="M90.1 285.4L94.6 278.0H85.6Z"/><path d="M91.2 279.1L95.7 271.7H86.7Z"/><path d="M89.6 278.7L94.1 271.3H85.1Z"/><path d="M91.3 274.6L95.8 267.2H86.8Z"/><path d="M90.0 287.2L94.5 279.8H85.5Z"/><path d="M90.7 266.1L95.2 258.7H86.2Z"/><path d="M93.2 272.1L97.7 264.7H88.7Z"/><path d="M91.6 279.2L96.1 271.8H87.1Z"/><path d="M92.7 279.0L97.2 271.6H88.2Z"/><path d="M96.3 281.3L100.8 273.9H91.8Z"/><path d="M94.8 273.9L99.3 266.5H90.3Z"/><path d="M96.3 264.8L100.8 257.4H91.8Z"/><path d="M94.8 266.7L99.3 259.3H90.3Z"/><path d="M95.6 267.1L100.1 259.7H91.1Z"/><path d="M95.9 269.8L100.4 262.4H91.4Z"/><path d="M96.9 279.5L101.4 272.1H92.4Z"/><path d="M98.4 269.1L102.9 261.7H93.9Z"/><path d="M99.2 276.3L103.7 268.9H94.7Z"/><path d="M98.4 284.5L102.9 277.1H93.9Z"/><path d="M99.6 275.0L104.1 267.6H95.1Z"/><path d="M99.3 271.6L103.8 264.2H94.8Z"/><path d="M101.7 273.6L106.2 266.2H97.2Z"/><path d="M100.8 270.9L105.3 263.5H96.3Z"/><path d="M102.9 265.0L107.4 257.6H98.4Z"/><path d="M103.2 274.6L107.7 267.2H98.7Z"/><path d="M104.3 267.4L108.8 260.0H99.8Z"/><path d="M103.3 273.9L107.8 266.5H98.8Z"/><path d="M106.4 269.2L110.9 261.8H101.9Z"/><path d="M107.2 273.8L111.7 266.4H102.7Z"/><path d="M107.1 275.8L111.6 268.4H102.6Z"/><path d="M107.2 274.1L111.7 266.7H102.7Z"/><path d="M109.0 281.1L113.5 273.7H104.5Z"/><path d="M108.0 273.7L112.5 266.3H103.5Z"/><path d="M110.2 268.7L114.7 261.3H105.7Z"/><path d="M108.7 278.0L113.2 270.6H104.2Z"/><path d="M110.4 271.3L114.9 263.9H105.9Z"/><path d="M110.5 275.4L115.0 268.0H106.0Z"/><path d="M109.8 272.0L114.3 264.6H105.3Z"/><path d="M111.2 277.0L115.7 269.6H106.7Z"/><path d="M111.8 278.5L116.3 271.1H107.3Z"/><path d="M114.3 271.2L118.8 263.8H109.8Z"/><path d="M112.3 269.5L116.8 262.1H107.8Z"/><path d="M113.2 274.6L117.7 267.2H108.7Z"/><path d="M115.9 272.7L120.4 265.3H111.4Z"/><path d="M114.7 274.8L119.2 267.4H110.2Z"/><path d="M117.2 271.6L121.7 264.2H112.7Z"/><path d="M116.0 277.6L120.5 270.2H111.5Z"/><path d="M117.4 271.6L121.9 264.2H112.9Z"/><path d="M118.1 267.0L122.6 259.6H113.6Z"/><path d="M118.4 278.1L122.9 270.7H113.9Z"/><path d="M119.9 268.4L124.4 261.0H115.4Z"/><path d="M120.8 268.1L125.3 260.7H116.3Z"/><path d="M120.3 273.9L124.8 266.5H115.8Z"/><path d="M121.8 271.2L126.3 263.8H117.3Z"/><path d="M121.7 267.0L126.2 259.6H117.2Z"/><path d="M121.9 270.6L126.4 263.2H117.4Z"/><path d="M122.2 279.7L126.7 272.3H117.7Z"/><path d="M122.5 270.0L127.0 262.6H118.0Z"/><path d="M124.3 271.8L128.8 264.4H119.8Z"/><path d="M124.3 271.7L128.8 264.3H119.8Z"/><path d="M125.1 271.9L129.6 264.5H120.6Z"/><path d="M125.0 264.5L129.5 257.1H120.5Z"/><path d="M125.9 273.6L130.4 266.2H121.4Z"/><path d="M126.2 267.2L130.7 259.8H121.7Z"/><path d="M126.6 269.5L131.1 262.1H122.1Z"/><path d="M128.4 268.1L132.9 260.7H123.9Z"/><path d="M128.0 266.1L132.5 258.7H123.5Z"/><path d="M129.5 264.4L134.0 257.0H125.0Z"/><path d="M131.9 262.8L136.4 255.4H127.4Z"/><path d="M131.3 263.5L135.8 256.1H126.8Z"/><path d="M133.2 261.5L137.7 254.1H128.7Z"/><path d="M135.4 263.4L139.9 256.0H130.9Z"/><path d="M136.4 265.8L140.9 258.4H131.9Z"/><path d="M137.7 265.3L142.2 257.9H133.2Z"/><path d="M138.3 261.8L142.8 254.4H133.8Z"/><path d="M139.3 263.2L143.8 255.8H134.8Z"/><path d="M141.3 260.5L145.8 253.1H136.8Z"/><path d="M142.4 259.3L146.9 251.9H137.9Z"/><path d="M142.4 251.8L146.9 244.4H137.9Z"/><path d="M143.8 253.5L148.3 246.1H139.3Z"/><path d="M145.3 249.7L149.8 242.3H140.8Z"/><path d="M146.5 249.3L151.0 241.9H142.0Z"/><path d="M148.1 247.6L152.6 240.2H143.6Z"/><path d="M148.8 244.0L153.3 236.6H144.3Z"/><path d="M150.6 244.0L155.1 236.6H146.1Z"/><path d="M151.9 241.3L156.4 233.9H147.4Z"/><path d="M153.1 240.3L157.6 232.9H148.6Z"/><path d="M155.2 236.9L159.7 229.5H150.7Z"/><path d="M156.8 233.8L161.3 226.4H152.3Z"/><path d="M158.2 232.4L162.7 225.0H153.7Z"/><path d="M159.8 228.2L164.3 220.8H155.3Z"/><path d="M161.2 225.6L165.7 218.2H156.7Z"/><path d="M162.8 225.7L167.3 218.3H158.3Z"/><path d="M164.7 223.3L169.2 215.9H160.2Z"/><path d="M166.4 219.1L170.9 211.7H161.9Z"/><path d="M167.8 215.5L172.3 208.1H163.3Z"/><path d="M169.6 214.8L174.1 207.4H165.1Z"/><path d="M171.0 213.8L175.5 206.4H166.5Z"/><path d="M172.8 211.2L177.3 203.8H168.3Z"/><path d="M174.5 207.0L179.0 199.6H170.0Z"/><path d="M175.7 207.0L180.2 199.6H171.2Z"/><path d="M177.7 204.0L182.2 196.6H173.2Z"/><path d="M179.0 201.7L183.5 194.3H174.5Z"/><path d="M180.3 197.6L184.8 190.2H175.8Z"/><path d="M182.0 197.0L186.5 189.6H177.5Z"/><path d="M184.1 193.3L188.6 185.9H179.6Z"/><path d="M185.2 191.5L189.7 184.1H180.7Z"/><path d="M187.0 190.0L191.5 182.6H182.5Z"/><path d="M188.2 186.3L192.7 178.9H183.7Z"/><path d="M190.3 181.2L194.8 173.8H185.8Z"/><path d="M192.0 177.8L196.5 170.4H187.5Z"/><path d="M193.6 176.4L198.1 169.0H189.1Z"/><path d="M195.1 175.6L199.6 168.2H190.6Z"/><path d="M196.5 173.3L201.0 165.9H192.0Z"/><path d="M198.3 171.1L202.8 163.7H193.8Z"/><path d="M199.8 169.1L204.3 161.7H195.3Z"/><path d="M201.5 169.4L206.0 162.0H197.0Z"/><path d="M203.2 166.5L207.7 159.1H198.7Z"/><path d="M204.5 166.5L209.0 159.1H200.0Z"/><path d="M206.0 164.8L210.5 157.4H201.5Z"/><path d="M208.0 163.9L212.5 156.5H203.5Z"/><path d="M209.4 161.4L213.9 154.0H204.9Z"/><path d="M210.9 161.9L215.4 154.5H206.4Z"/><path d="M212.6 158.3L217.1 150.9H208.1Z"/><path d="M214.2 158.1L218.7 150.7H209.7Z"/><path d="M215.7 156.2L220.2 148.8H211.2Z"/><path d="M217.5 157.1L222.0 149.7H213.0Z"/><path d="M218.9 155.8L223.4 148.4H214.4Z"/><path d="M220.5 154.5L225.0 147.1H216.0Z"/><path d="M222.2 152.9L226.7 145.5H217.7Z"/><path d="M223.8 152.3L228.3 144.9H219.3Z"/><path d="M225.4 151.4L229.9 144.0H220.9Z"/><path d="M227.0 151.2L231.5 143.8H222.5Z"/><path d="M228.6 150.6L233.1 143.2H224.1Z"/><path d="M230.3 149.3L234.8 141.9H225.8Z"/><path d="M231.7 149.3L236.2 141.9H227.2Z"/><path d="M233.4 148.3L237.9 140.9H228.9Z"/><path d="M234.9 147.9L239.4 140.5H230.4Z"/><path d="M236.7 147.0L241.2 139.6H232.2Z"/><path d="M238.1 147.0L242.6 139.6H233.6Z"/><path d="M239.8 146.4L244.3 139.0H235.3Z"/><path d="M241.5 145.3L246.0 137.9H237.0Z"/><path d="M243.0 144.8L247.5 137.4H238.5Z"/><path d="M244.5 144.6L249.0 137.2H240.0Z"/><path d="M246.3 143.6L250.8 136.2H241.8Z"/><path d="M247.8 144.0L252.3 136.6H243.3Z"/><path d="M249.3 143.3L253.8 135.9H244.8Z"/><path d="M251.0 142.6L255.5 135.2H246.5Z"/><path d="M252.6 142.6L257.1 135.2H248.1Z"/><path d="M254.2 142.8L258.7 135.4H249.7Z"/><path d="M255.9 142.5L260.4 135.1H251.4Z"/><path d="M257.3 142.1L261.8 134.7H252.8Z"/><path d="M259.0 141.5L263.5 134.1H254.5Z"/><path d="M260.5 140.9L265.0 133.5H256.0Z"/><path d="M262.9 141.0L267.4 133.6H258.4Z"/><path d="M265.1 139.3L269.6 131.9H260.6Z"/><path d="M267.5 139.1L272.0 131.7H263.0Z"/><path d="M269.9 138.6L274.4 131.2H265.4Z"/><path d="M272.1 137.5L276.6 130.1H267.6Z"/><path d="M274.5 136.6L279.0 129.2H270.0Z"/><path d="M276.8 136.0L281.3 128.6H272.3Z"/><path d="M279.0 134.5L283.5 127.1H274.5Z"/><path d="M281.2 133.2L285.7 125.8H276.7Z"/><path d="M283.5 132.2L288.0 124.8H279.0Z"/><path d="M285.8 130.7L290.3 123.3H281.3Z"/><path d="M288.3 128.5L292.8 121.1H283.8Z"/><path d="M290.6 127.7L295.1 120.3H286.1Z"/><path d="M292.9 126.2L297.4 118.8H288.4Z"/><path d="M295.1 125.2L299.6 117.8H290.6Z"/><path d="M297.4 123.6L301.9 116.2H292.9Z"/><path d="M299.8 123.5L304.3 116.1H295.3Z"/><path d="M301.9 121.8L306.4 114.4H297.4Z"/><path d="M304.4 120.4L308.9 113.0H299.9Z"/><path d="M306.6 120.0L311.1 112.6H302.1Z"/><path d="M308.8 119.7L313.3 112.3H304.3Z"/><path d="M311.3 119.2L315.8 111.8H306.8Z"/><path d="M313.4 118.8L317.9 111.4H308.9Z"/><path d="M315.7 118.1L320.2 110.7H311.2Z"/><path d="M318.0 118.1L322.5 110.7H313.5Z"/><path d="M320.3 117.1L324.8 109.7H315.8Z"/><path d="M322.8 116.9L327.3 109.5H318.3Z"/><path d="M325.1 116.0L329.6 108.6H320.6Z"/><path d="M327.3 115.5L331.8 108.1H322.8Z"/><path d="M329.5 115.5L334.0 108.1H325.0Z"/><path d="M332.0 115.8L336.5 108.4H327.5Z"/><path d="M335.0 114.4L339.5 107.0H330.5Z"/><path d="M337.9 113.9L342.4 106.5H333.4Z"/><path d="M340.9 112.6L345.4 105.2H336.4Z"/><path d="M343.8 112.9L348.3 105.5H339.3Z"/><path d="M346.9 113.2L351.4 105.8H342.4Z"/><path d="M349.9 112.3L354.4 104.9H345.4Z"/><path d="M353.0 111.0L357.5 103.6H348.5Z"/><path d="M356.0 110.5L360.5 103.1H351.5Z"/><path d="M358.9 110.1L363.4 102.7H354.4Z"/><path d="M361.8 110.5L366.3 103.1H357.3Z"/><path d="M365.0 110.1L369.5 102.7H360.5Z"/><path d="M367.9 109.7L372.4 102.3H363.4Z"/><path d="M370.9 109.2L375.4 101.8H366.4Z"/><path d="M373.9 109.2L378.4 101.8H369.4Z"/><path d="M376.9 108.8L381.4 101.4H372.4Z"/><path d="M379.8 108.4L384.3 101.0H375.3Z"/><path d="M382.9 108.4L387.4 101.0H378.4Z"/><path d="M386.0 107.7L390.5 100.3H381.5Z"/><path d="M388.9 107.3L393.4 99.9H384.4Z"/><path d="M391.8 107.6L396.3 100.2H387.3Z"/><path d="M394.9 107.1L399.4 99.7H390.4Z"/><path d="M397.9 106.7L402.4 99.3H393.4Z"/><path d="M400.9 106.8L405.4 99.4H396.4Z"/><path d="M404.0 105.9L408.5 98.5H399.5Z"/><path d="M407.0 107.4L411.5 100.0H402.5Z"/><path d="M409.9 105.3L414.4 97.9H405.4Z"/><path d="M412.9 104.3L417.4 96.9H408.4Z"/><path d="M416.1 107.0L420.6 99.6H411.6Z"/><path d="M418.5 103.5L423.0 96.1H414.0Z"/><path d="M422.1 105.0L426.6 97.6H417.6Z"/><path d="M426.5 102.0L431.0 94.6H422.0Z"/><path d="M431.1 103.5L435.6 96.1H426.6Z"/><path d="M434.8 102.7L439.3 95.3H430.3Z"/><path d="M440.9 95.1L445.4 87.7H436.4Z"/><path d="M446.0 99.2L450.5 91.8H441.5Z"/><path d="M451.1 95.8L455.6 88.4H446.6Z"/><path d="M454.8 82.7L459.3 75.3H450.3Z"/><path d="M459.9 78.9L464.4 71.5H455.4Z"/><path d="M465.7 74.7L470.2 67.3H461.2Z"/><path d="M472.7 84.3L477.2 76.9H468.2Z"/><path d="M480.8 63.2L485.3 55.8H476.3Z"/><path d="M484.9 59.8L489.4 52.4H480.4Z"/><path d="M491.4 68.3L495.9 60.9H486.9Z"/><path d="M494.0 52.4L498.5 45.0H489.5Z"/></g>
<g class="mk"><path d="M87.0 257.8L92.0 262.8L87.0 267.8L82.0 262.8Z"/><path d="M87.0 256.5L92.0 261.5L87.0 266.5L82.0 261.5Z"/><path d="M88.8 257.9L93.8 262.9L88.8 267.9L83.8 262.9Z"/><path d="M88.5 256.5L93.5 261.5L88.5 266.5L83.5 261.5Z"/><path d="M87.3 274.2L92.3 279.2L87.3 284.2L82.3 279.2Z"/><path d="M88.3 234.5L93.3 239.5L88.3 244.5L83.3 239.5Z"/><path d="M88.6 255.0L93.6 260.0L88.6 265.0L83.6 260.0Z"/><path d="M89.1 251.1L94.1 256.1L89.1 261.1L84.1 256.1Z"/><path d="M92.0 264.8L97.0 269.8L92.0 274.8L87.0 269.8Z"/><path d="M90.3 245.8L95.3 250.8L90.3 255.8L85.3 250.8Z"/><path d="M90.9 263.2L95.9 268.2L90.9 273.2L85.9 268.2Z"/><path d="M92.4 252.6L97.4 257.6L92.4 262.6L87.4 257.6Z"/><path d="M93.5 253.8L98.5 258.8L93.5 263.8L88.5 258.8Z"/><path d="M93.3 257.3L98.3 262.3L93.3 267.3L88.3 262.3Z"/><path d="M95.0 242.7L100.0 247.7L95.0 252.7L90.0 247.7Z"/><path d="M94.6 249.7L99.6 254.7L94.6 259.7L89.6 254.7Z"/><path d="M95.6 269.2L100.6 274.2L95.6 279.2L90.6 274.2Z"/><path d="M97.9 240.4L102.9 245.4L97.9 250.4L92.9 245.4Z"/><path d="M95.6 259.1L100.6 264.1L95.6 269.1L90.6 264.1Z"/><path d="M99.0 256.1L104.0 261.1L99.0 266.1L94.0 261.1Z"/><path d="M97.2 252.1L102.2 257.1L97.2 262.1L92.2 257.1Z"/><path d="M98.6 246.6L103.6 251.6L98.6 256.6L93.6 251.6Z"/><path d="M97.8 257.6L102.8 262.6L97.8 267.6L92.8 262.6Z"/><path d="M98.2 253.6L103.2 258.6L98.2 263.6L93.2 258.6Z"/><path d="M100.6 244.3L105.6 249.3L100.6 254.3L95.6 249.3Z"/><path d="M100.7 257.5L105.7 262.5L100.7 267.5L95.7 262.5Z"/><path d="M103.2 251.6L108.2 256.6L103.2 261.6L98.2 256.6Z"/><path d="M101.7 255.1L106.7 260.1L101.7 265.1L96.7 260.1Z"/><path d="M103.9 255.5L108.9 260.5L103.9 265.5L98.9 260.5Z"/><path d="M102.8 259.8L107.8 264.8L102.8 269.8L97.8 264.8Z"/><path d="M103.8 259.1L108.8 264.1L103.8 269.1L98.8 264.1Z"/><path d="M103.2 252.0L108.2 257.0L103.2 262.0L98.2 257.0Z"/><path d="M105.1 263.0L110.1 268.0L105.1 273.0L100.1 268.0Z"/><path d="M104.5 249.3L109.5 254.3L104.5 259.3L99.5 254.3Z"/><path d="M107.5 249.3L112.5 254.3L107.5 259.3L102.5 254.3Z"/><path d="M108.4 254.7L113.4 259.7L108.4 264.7L103.4 259.7Z"/><path d="M106.1 254.2L111.1 259.2L106.1 264.2L101.1 259.2Z"/><path d="M109.4 250.0L114.4 255.0L109.4 260.0L104.4 255.0Z"/><path d="M108.8 257.1L113.8 262.1L108.8 267.1L103.8 262.1Z"/><path d="M109.3 253.1L114.3 258.1L109.3 263.1L104.3 258.1Z"/><path d="M108.7 255.5L113.7 260.5L108.7 265.5L103.7 260.5Z"/><path d="M111.6 253.7L116.6 258.7L111.6 263.7L106.6 258.7Z"/><path d="M112.0 248.7L117.0 253.7L112.0 258.7L107.0 253.7Z"/><path d="M112.1 251.3L117.1 256.3L112.1 261.3L107.1 256.3Z"/><path d="M111.2 252.1L116.2 257.1L111.2 262.1L106.2 257.1Z"/><path d="M111.6 249.7L116.6 254.7L111.6 259.7L106.6 254.7Z"/><path d="M113.3 249.5L118.3 254.5L113.3 259.5L108.3 254.5Z"/><path d="M113.8 258.8L118.8 263.8L113.8 268.8L108.8 263.8Z"/><path d="M115.1 247.1L120.1 252.1L115.1 257.1L110.1 252.1Z"/><path d="M114.9 247.3L119.9 252.3L114.9 257.3L109.9 252.3Z"/><path d="M117.1 255.6L122.1 260.6L117.1 265.6L112.1 260.6Z"/><path d="M117.7 244.3L122.7 249.3L117.7 254.3L112.7 249.3Z"/><path d="M116.8 258.1L121.8 263.1L116.8 268.1L111.8 263.1Z"/><path d="M117.5 251.7L122.5 256.7L117.5 261.7L112.5 256.7Z"/><path d="M117.7 248.3L122.7 253.3L117.7 258.3L112.7 253.3Z"/><path d="M120.3 250.2L125.3 255.2L120.3 260.2L115.3 255.2Z"/><path d="M120.1 245.5L125.1 250.5L120.1 255.5L115.1 250.5Z"/><path d="M119.7 258.0L124.7 263.0L119.7 268.0L114.7 263.0Z"/><path d="M121.3 247.0L126.3 252.0L121.3 257.0L116.3 252.0Z"/><path d="M121.0 254.2L126.0 259.2L121.0 264.2L116.0 259.2Z"/><path d="M122.9 251.1L127.9 256.1L122.9 261.1L117.9 256.1Z"/><path d="M123.2 249.3L128.2 254.3L123.2 259.3L118.2 254.3Z"/><path d="M123.4 253.9L128.4 258.9L123.4 263.9L118.4 258.9Z"/><path d="M123.4 252.4L128.4 257.4L123.4 262.4L118.4 257.4Z"/><path d="M123.5 248.9L128.5 253.9L123.5 258.9L118.5 253.9Z"/><path d="M124.6 245.6L129.6 250.6L124.6 255.6L119.6 250.6Z"/><path d="M125.6 246.1L130.6 251.1L125.6 256.1L120.6 251.1Z"/><path d="M127.1 241.3L132.1 246.3L127.1 251.3L122.1 246.3Z"/><path d="M125.7 240.5L130.7 245.5L125.7 250.5L120.7 245.5Z"/><path d="M128.0 249.1L133.0 254.1L128.0 259.1L123.0 254.1Z"/><path d="M128.7 247.6L133.7 252.6L128.7 257.6L123.7 252.6Z"/><path d="M128.9 248.5L133.9 253.5L128.9 258.5L123.9 253.5Z"/><path d="M130.3 239.4L135.3 244.4L130.3 249.4L125.3 244.4Z"/><path d="M130.7 240.1L135.7 245.1L130.7 250.1L125.7 245.1Z"/><path d="M132.2 241.3L137.2 246.3L132.2 251.3L127.2 246.3Z"/><path d="M132.7 243.6L137.7 248.6L132.7 253.6L127.7 248.6Z"/><path d="M134.0 235.1L139.0 240.1L134.0 245.1L129.0 240.1Z"/><path d="M136.2 236.4L141.2 241.4L136.2 246.4L131.2 241.4Z"/><path d="M137.6 236.1L142.6 241.1L137.6 246.1L132.6 241.1Z"/><path d="M139.0 231.8L144.0 236.8L139.0 241.8L134.0 236.8Z"/><path d="M139.1 231.4L144.1 236.4L139.1 241.4L134.1 236.4Z"/><path d="M140.1 229.2L145.1 234.2L140.1 239.2L135.1 234.2Z"/><path d="M141.2 228.6L146.2 233.6L141.2 238.6L136.2 233.6Z"/><path d="M143.5 236.2L148.5 241.2L143.5 246.2L138.5 241.2Z"/><path d="M143.7 225.7L148.7 230.7L143.7 235.7L138.7 230.7Z"/><path d="M145.6 222.2L150.6 227.2L145.6 232.2L140.6 227.2Z"/><path d="M146.9 224.6L151.9 229.6L146.9 234.6L141.9 229.6Z"/><path d="M148.0 224.7L153.0 229.7L148.0 234.7L143.0 229.7Z"/><path d="M148.8 217.6L153.8 222.6L148.8 227.6L143.8 222.6Z"/><path d="M149.9 218.5L154.9 223.5L149.9 228.5L144.9 223.5Z"/><path d="M151.7 217.2L156.7 222.2L151.7 227.2L146.7 222.2Z"/><path d="M153.4 214.6L158.4 219.6L153.4 224.6L148.4 219.6Z"/><path d="M155.0 213.2L160.0 218.2L155.0 223.2L150.0 218.2Z"/><path d="M156.6 210.1L161.6 215.1L156.6 220.1L151.6 215.1Z"/><path d="M158.2 207.6L163.2 212.6L158.2 217.6L153.2 212.6Z"/><path d="M159.8 206.2L164.8 211.2L159.8 216.2L154.8 211.2Z"/><path d="M161.6 203.1L166.6 208.1L161.6 213.1L156.6 208.1Z"/><path d="M163.2 201.9L168.2 206.9L163.2 211.9L158.2 206.9Z"/><path d="M164.4 199.2L169.4 204.2L164.4 209.2L159.4 204.2Z"/><path d="M166.1 198.8L171.1 203.8L166.1 208.8L161.1 203.8Z"/><path d="M167.9 194.4L172.9 199.4L167.9 204.4L162.9 199.4Z"/><path d="M169.7 190.7L174.7 195.7L169.7 200.7L164.7 195.7Z"/><path d="M170.7 187.1L175.7 192.1L170.7 197.1L165.7 192.1Z"/><path d="M172.6 184.1L177.6 189.1L172.6 194.1L167.6 189.1Z"/><path d="M174.1 179.7L179.1 184.7L174.1 189.7L169.1 184.7Z"/><path d="M176.0 178.8L181.0 183.8L176.0 188.8L171.0 183.8Z"/><path d="M177.6 173.7L182.6 178.7L177.6 183.7L172.6 178.7Z"/><path d="M178.8 173.1L183.8 178.1L178.8 183.1L173.8 178.1Z"/><path d="M180.6 170.6L185.6 175.6L180.6 180.6L175.6 175.6Z"/><path d="M182.6 166.1L187.6 171.1L182.6 176.1L177.6 171.1Z"/><path d="M183.6 162.4L188.6 167.4L183.6 172.4L178.6 167.4Z"/><path d="M185.2 160.6L190.2 165.6L185.2 170.6L180.2 165.6Z"/><path d="M187.1 159.1L192.1 164.1L187.1 169.1L182.1 164.1Z"/><path d="M188.8 155.2L193.8 160.2L188.8 165.2L183.8 160.2Z"/><path d="M190.5 154.3L195.5 159.3L190.5 164.3L185.5 159.3Z"/><path d="M191.8 152.1L196.8 157.1L191.8 162.1L186.8 157.1Z"/><path d="M193.7 152.5L198.7 157.5L193.7 162.5L188.7 157.5Z"/><path d="M194.7 152.0L199.7 157.0L194.7 162.0L189.7 157.0Z"/><path d="M196.5 149.9L201.5 154.9L196.5 159.9L191.5 154.9Z"/><path d="M198.2 146.4L203.2 151.4L198.2 156.4L193.2 151.4Z"/><path d="M199.9 146.8L204.9 151.8L199.9 156.8L194.9 151.8Z"/><path d="M201.3 144.9L206.3 149.9L201.3 154.9L196.3 149.9Z"/><path d="M203.3 145.3L208.3 150.3L203.3 155.3L198.3 150.3Z"/><path d="M204.7 144.7L209.7 149.7L204.7 154.7L199.7 149.7Z"/><path d="M206.2 142.2L211.2 147.2L206.2 152.2L201.2 147.2Z"/><path d="M207.9 140.4L212.9 145.4L207.9 150.4L202.9 145.4Z"/><path d="M209.4 140.6L214.4 145.6L209.4 150.6L204.4 145.6Z"/><path d="M211.1 138.4L216.1 143.4L211.1 148.4L206.1 143.4Z"/><path d="M212.7 137.5L217.7 142.5L212.7 147.5L207.7 142.5Z"/><path d="M214.3 138.3L219.3 143.3L214.3 148.3L209.3 143.3Z"/><path d="M216.0 136.7L221.0 141.7L216.0 146.7L211.0 141.7Z"/><path d="M217.4 136.6L222.4 141.6L217.4 146.6L212.4 141.6Z"/><path d="M218.9 135.4L223.9 140.4L218.9 145.4L213.9 140.4Z"/><path d="M220.5 134.6L225.5 139.6L220.5 144.6L215.5 139.6Z"/><path d="M222.2 134.0L227.2 139.0L222.2 144.0L217.2 139.0Z"/><path d="M223.7 133.3L228.7 138.3L223.7 143.3L218.7 138.3Z"/><path d="M225.3 132.6L230.3 137.6L225.3 142.6L220.3 137.6Z"/><path d="M226.9 131.7L231.9 136.7L226.9 141.7L221.9 136.7Z"/><path d="M228.5 131.6L233.5 136.6L228.5 141.6L223.5 136.6Z"/><path d="M230.1 131.4L235.1 136.4L230.1 141.4L225.1 136.4Z"/><path d="M231.7 130.7L236.7 135.7L231.7 140.7L226.7 135.7Z"/><path d="M233.4 129.1L238.4 134.1L233.4 139.1L228.4 134.1Z"/><path d="M235.0 128.8L240.0 133.8L235.0 138.8L230.0 133.8Z"/><path d="M236.6 128.0L241.6 133.0L236.6 138.0L231.6 133.0Z"/><path d="M238.2 128.3L243.2 133.3L238.2 138.3L233.2 133.3Z"/><path d="M239.8 127.1L244.8 132.1L239.8 137.1L234.8 132.1Z"/><path d="M241.5 127.2L246.5 132.2L241.5 137.2L236.5 132.2Z"/><path d="M242.9 126.6L247.9 131.6L242.9 136.6L237.9 131.6Z"/><path d="M244.6 126.1L249.6 131.1L244.6 136.1L239.6 131.1Z"/><path d="M246.2 126.2L251.2 131.2L246.2 136.2L241.2 131.2Z"/><path d="M247.8 125.3L252.8 130.3L247.8 135.3L242.8 130.3Z"/><path d="M249.4 125.0L254.4 130.0L249.4 135.0L244.4 130.0Z"/><path d="M250.9 125.1L255.9 130.1L250.9 135.1L245.9 130.1Z"/><path d="M252.7 124.3L257.7 129.3L252.7 134.3L247.7 129.3Z"/><path d="M254.2 124.6L259.2 129.6L254.2 134.6L249.2 129.6Z"/><path d="M255.8 123.3L260.8 128.3L255.8 133.3L250.8 128.3Z"/><path d="M257.4 124.1L262.4 129.1L257.4 134.1L252.4 129.1Z"/><path d="M258.9 123.4L263.9 128.4L258.9 133.4L253.9 128.4Z"/><path d="M260.6 122.7L265.6 127.7L260.6 132.7L255.6 127.7Z"/><path d="M262.9 122.2L267.9 127.2L262.9 132.2L257.9 127.2Z"/><path d="M265.1 121.9L270.1 126.9L265.1 131.9L260.1 126.9Z"/><path d="M267.5 120.9L272.5 125.9L267.5 130.9L262.5 125.9Z"/><path d="M269.7 120.7L274.7 125.7L269.7 130.7L264.7 125.7Z"/><path d="M272.1 119.8L277.1 124.8L272.1 129.8L267.1 124.8Z"/><path d="M274.5 119.9L279.5 124.9L274.5 129.9L269.5 124.9Z"/><path d="M276.6 118.1L281.6 123.1L276.6 128.1L271.6 123.1Z"/><path d="M279.0 117.2L284.0 122.2L279.0 127.2L274.0 122.2Z"/><path d="M281.4 116.3L286.4 121.3L281.4 126.3L276.4 121.3Z"/><path d="M283.6 114.7L288.6 119.7L283.6 124.7L278.6 119.7Z"/><path d="M285.9 114.1L290.9 119.1L285.9 124.1L280.9 119.1Z"/><path d="M288.2 112.6L293.2 117.6L288.2 122.6L283.2 117.6Z"/><path d="M290.6 111.8L295.6 116.8L290.6 121.8L285.6 116.8Z"/><path d="M292.9 111.3L297.9 116.3L292.9 121.3L287.9 116.3Z"/><path d="M295.1 109.2L300.1 114.2L295.1 119.2L290.1 114.2Z"/><path d="M297.5 108.2L302.5 113.2L297.5 118.2L292.5 113.2Z"/><path d="M299.6 107.5L304.6 112.5L299.6 117.5L294.6 112.5Z"/><path d="M302.0 107.3L307.0 112.3L302.0 117.3L297.0 112.3Z"/><path d="M304.4 105.6L309.4 110.6L304.4 115.6L299.4 110.6Z"/><path d="M306.5 105.3L311.5 110.3L306.5 115.3L301.5 110.3Z"/><path d="M308.9 103.9L313.9 108.9L308.9 113.9L303.9 108.9Z"/><path d="M311.1 104.4L316.1 109.4L311.1 114.4L306.1 109.4Z"/><path d="M313.5 104.1L318.5 109.1L313.5 114.1L308.5 109.1Z"/><path d="M315.8 102.8L320.8 107.8L315.8 112.8L310.8 107.8Z"/><path d="M318.1 101.9L323.1 106.9L318.1 111.9L313.1 106.9Z"/><path d="M320.4 101.2L325.4 106.2L320.4 111.2L315.4 106.2Z"/><path d="M322.8 101.8L327.8 106.8L322.8 111.8L317.8 106.8Z"/><path d="M324.9 100.7L329.9 105.7L324.9 110.7L319.9 105.7Z"/><path d="M327.4 99.9L332.4 104.9L327.4 109.9L322.4 104.9Z"/><path d="M329.6 100.1L334.6 105.1L329.6 110.1L324.6 105.1Z"/><path d="M331.8 99.5L336.8 104.5L331.8 109.5L326.8 104.5Z"/><path d="M334.9 99.3L339.9 104.3L334.9 109.3L329.9 104.3Z"/><path d="M337.8 98.9L342.8 103.9L337.8 108.9L332.8 103.9Z"/><path d="M340.8 97.6L345.8 102.6L340.8 107.6L335.8 102.6Z"/><path d="M343.9 97.8L348.9 102.8L343.9 107.8L338.9 102.8Z"/><path d="M347.0 97.0L352.0 102.0L347.0 107.0L342.0 102.0Z"/><path d="M350.0 96.5L355.0 101.5L350.0 106.5L345.0 101.5Z"/><path d="M352.9 96.7L357.9 101.7L352.9 106.7L347.9 101.7Z"/><path d="M355.8 96.6L360.8 101.6L355.8 106.6L350.8 101.6Z"/><path d="M358.9 96.4L363.9 101.4L358.9 106.4L353.9 101.4Z"/><path d="M361.9 95.7L366.9 100.7L361.9 105.7L356.9 100.7Z"/><path d="M364.9 94.5L369.9 99.5L364.9 104.5L359.9 99.5Z"/><path d="M367.9 95.7L372.9 100.7L367.9 105.7L362.9 100.7Z"/><path d="M370.9 95.2L375.9 100.2L370.9 105.2L365.9 100.2Z"/><path d="M373.9 95.0L378.9 100.0L373.9 105.0L368.9 100.0Z"/><path d="M376.9 93.8L381.9 98.8L376.9 103.8L371.9 98.8Z"/><path d="M380.0 93.7L385.0 98.7L380.0 103.7L375.0 98.7Z"/><path d="M382.9 93.5L387.9 98.5L382.9 103.5L377.9 98.5Z"/><path d="M386.0 93.3L391.0 98.3L386.0 103.3L381.0 98.3Z"/><path d="M388.8 92.8L393.8 97.8L388.8 102.8L383.8 97.8Z"/><path d="M392.0 92.6L397.0 97.6L392.0 102.6L387.0 97.6Z"/><path d="M394.9 92.1L399.9 97.1L394.9 102.1L389.9 97.1Z"/><path d="M397.8 91.7L402.8 96.7L397.8 101.7L392.8 96.7Z"/><path d="M400.9 91.1L405.9 96.1L400.9 101.1L395.9 96.1Z"/><path d="M403.9 90.1L408.9 95.1L403.9 100.1L398.9 95.1Z"/><path d="M406.9 91.0L411.9 96.0L406.9 101.0L401.9 96.0Z"/><path d="M410.0 89.7L415.0 94.7L410.0 99.7L405.0 94.7Z"/><path d="M413.2 90.4L418.2 95.4L413.2 100.4L408.2 95.4Z"/><path d="M415.9 90.6L420.9 95.6L415.9 100.6L410.9 95.6Z"/><path d="M419.1 86.5L424.1 91.5L419.1 96.5L414.1 91.5Z"/><path d="M421.9 88.2L426.9 93.2L421.9 98.2L416.9 93.2Z"/><path d="M426.4 79.0L431.4 84.0L426.4 89.0L421.4 84.0Z"/><path d="M430.5 79.4L435.5 84.4L430.5 89.4L425.5 84.4Z"/><path d="M434.4 82.3L439.4 87.3L434.4 92.3L429.4 87.3Z"/><path d="M440.0 72.4L445.0 77.4L440.0 82.4L435.0 77.4Z"/><path d="M444.8 72.3L449.8 77.3L444.8 82.3L439.8 77.3Z"/><path d="M451.1 74.3L456.1 79.3L451.1 84.3L446.1 79.3Z"/><path d="M454.5 65.2L459.5 70.2L454.5 75.2L449.5 70.2Z"/><path d="M460.2 61.7L465.2 66.7L460.2 71.7L455.2 66.7Z"/><path d="M467.1 54.3L472.1 59.3L467.1 64.3L462.1 59.3Z"/><path d="M473.0 57.4L478.0 62.4L473.0 67.4L468.0 62.4Z"/><path d="M481.0 42.8L486.0 47.8L481.0 52.8L476.0 47.8Z"/><path d="M485.3 41.1L490.3 46.1L485.3 51.1L480.3 46.1Z"/><path d="M494.1 29.7L499.1 34.7L494.1 39.7L489.1 34.7Z"/></g>
<g class="mk"><path d="M87.0 240.7L90.9 243.0V247.5L87.0 249.7L83.1 247.5V243.0Z"/><path d="M87.0 256.4L90.9 258.6V263.1L87.0 265.4L83.1 263.1V258.6Z"/><path d="M87.0 235.1L90.9 237.3V241.8L87.0 244.1L83.1 241.8V237.3Z"/><path d="M88.6 254.6L92.5 256.8V261.3L88.6 263.6L84.7 261.3V256.8Z"/><path d="M87.4 254.7L91.3 256.9V261.4L87.4 263.7L83.5 261.4V256.9Z"/><path d="M87.0 246.6L90.9 248.8V253.3L87.0 255.6L83.1 253.3V248.8Z"/><path d="M91.3 245.3L95.2 247.5V252.0L91.3 254.3L87.4 252.0V247.5Z"/><path d="M92.8 237.0L96.7 239.2V243.7L92.8 246.0L88.9 243.7V239.2Z"/><path d="M92.5 244.4L96.4 246.6V251.1L92.5 253.4L88.7 251.1V246.6Z"/><path d="M92.3 264.3L96.2 266.6V271.1L92.3 273.3L88.4 271.1V266.6Z"/><path d="M92.7 254.1L96.6 256.4V260.9L92.7 263.1L88.8 260.9V256.4Z"/><path d="M91.5 245.3L95.4 247.6V252.1L91.5 254.3L87.6 252.1V247.6Z"/><path d="M91.9 244.4L95.8 246.6V251.1L91.9 253.4L88.0 251.1V246.6Z"/><path d="M95.4 250.5L99.3 252.7V257.2L95.4 259.5L91.5 257.2V252.7Z"/><path d="M95.2 236.8L99.1 239.0V243.5L95.2 245.8L91.3 243.5V239.0Z"/><path d="M97.4 249.5L101.3 251.8V256.3L97.4 258.5L93.5 256.3V251.8Z"/><path d="M98.1 240.7L102.0 242.9V247.4L98.1 249.7L94.2 247.4V242.9Z"/><path d="M98.0 243.5L101.9 245.7V250.2L98.0 252.5L94.1 250.2V245.7Z"/><path d="M95.4 243.1L99.3 245.4V249.9L95.4 252.1L91.5 249.9V245.4Z"/><path d="M95.6 229.7L99.5 231.9V236.4L95.6 238.7L91.7 236.4V231.9Z"/><path d="M95.7 236.3L99.6 238.5V243.0L95.7 245.3L91.8 243.0V238.5Z"/><path d="M99.6 248.0L103.5 250.3V254.8L99.6 257.0L95.7 254.8V250.3Z"/><path d="M101.0 238.3L104.9 240.6V245.1L101.0 247.3L97.1 245.1V240.6Z"/><path d="M99.8 236.6L103.7 238.9V243.4L99.8 245.6L95.9 243.4V238.9Z"/><path d="M101.9 245.8L105.8 248.0V252.5L101.9 254.8L98.0 252.5V248.0Z"/><path d="M100.8 232.3L104.7 234.5V239.0L100.8 241.3L96.9 239.0V234.5Z"/><path d="M99.2 228.9L103.1 231.2V235.7L99.2 237.9L95.3 235.7V231.2Z"/><path d="M100.4 229.5L104.3 231.7V236.2L100.4 238.5L96.5 236.2V231.7Z"/><path d="M102.2 236.1L106.1 238.4V242.9L102.2 245.1L98.3 242.9V238.4Z"/><path d="M103.6 242.8L107.5 245.0V249.5L103.6 251.8L99.7 249.5V245.0Z"/><path d="M103.1 229.7L107.0 231.9V236.4L103.1 238.7L99.2 236.4V231.9Z"/><path d="M104.7 226.7L108.5 228.9V233.4L104.7 235.7L100.8 233.4V228.9Z"/><path d="M105.9 246.0L109.8 248.3V252.8L105.9 255.0L102.0 252.8V248.3Z"/><path d="M107.3 228.3L111.2 230.6V235.1L107.3 237.3L103.4 235.1V230.6Z"/><path d="M104.5 232.2L108.4 234.5V239.0L104.5 241.2L100.6 239.0V234.5Z"/><path d="M105.3 234.6L109.2 236.9V241.4L105.3 243.6L101.4 241.4V236.9Z"/><path d="M109.5 241.2L113.4 243.5V248.0L109.5 250.2L105.6 248.0V243.5Z"/><path d="M106.5 230.7L110.4 232.9V237.4L106.5 239.7L102.6 237.4V232.9Z"/><path d="M110.0 222.7L113.9 224.9V229.4L110.0 231.7L106.1 229.4V224.9Z"/><path d="M107.9 212.8L111.8 215.1V219.6L107.9 221.8L104.0 219.6V215.1Z"/><path d="M108.6 224.9L112.5 227.1V231.6L108.6 233.9L104.7 231.6V227.1Z"/><path d="M108.5 223.8L112.4 226.0V230.5L108.5 232.8L104.6 230.5V226.0Z"/><path d="M109.5 211.7L113.4 213.9V218.4L109.5 220.7L105.6 218.4V213.9Z"/><path d="M110.3 224.5L114.2 226.8V231.3L110.3 233.5L106.4 231.3V226.8Z"/><path d="M112.3 225.1L116.1 227.4V231.9L112.3 234.1L108.4 231.9V227.4Z"/><path d="M114.0 227.4L117.9 229.7V234.2L114.0 236.4L110.1 234.2V229.7Z"/><path d="M111.7 223.9L115.6 226.1V230.6L111.7 232.9L107.8 230.6V226.1Z"/><path d="M113.0 225.8L116.9 228.0V232.5L113.0 234.8L109.1 232.5V228.0Z"/><path d="M114.8 217.2L118.7 219.5V224.0L114.8 226.2L110.9 224.0V219.5Z"/><path d="M113.8 211.3L117.7 213.5V218.0L113.8 220.3L109.9 218.0V213.5Z"/><path d="M114.4 225.5L118.3 227.7V232.2L114.4 234.5L110.6 232.2V227.7Z"/><path d="M115.1 230.2L119.0 232.5V237.0L115.1 239.2L111.2 237.0V232.5Z"/><path d="M116.2 211.9L120.1 214.1V218.6L116.2 220.9L112.3 218.6V214.1Z"/><path d="M119.3 227.7L123.2 229.9V234.4L119.3 236.7L115.4 234.4V229.9Z"/><path d="M117.4 227.1L121.3 229.4V233.9L117.4 236.1L113.5 233.9V229.4Z"/><path d="M117.8 217.3L121.7 219.5V224.0L117.8 226.3L113.9 224.0V219.5Z"/><path d="M120.9 215.8L124.8 218.0V222.5L120.9 224.8L117.0 222.5V218.0Z"/><path d="M119.1 211.2L123.0 213.4V217.9L119.1 220.2L115.2 217.9V213.4Z"/><path d="M120.1 219.5L124.0 221.8V226.3L120.1 228.5L116.2 226.3V221.8Z"/><path d="M120.7 220.8L124.6 223.0V227.5L120.7 229.8L116.8 227.5V223.0Z"/><path d="M123.7 221.4L127.6 223.7V228.2L123.7 230.4L119.8 228.2V223.7Z"/><path d="M121.9 220.9L125.8 223.2V227.7L121.9 229.9L118.0 227.7V223.2Z"/><path d="M123.1 211.7L127.0 214.0V218.5L123.1 220.7L119.2 218.5V214.0Z"/><path d="M124.1 218.4L128.0 220.6V225.1L124.1 227.4L120.2 225.1V220.6Z"/><path d="M123.0 211.4L126.9 213.6V218.1L123.0 220.4L119.1 218.1V213.6Z"/><path d="M125.4 217.2L129.3 219.5V224.0L125.4 226.2L121.5 224.0V219.5Z"/><path d="M125.0 212.5L128.9 214.8V219.3L125.0 221.5L121.1 219.3V214.8Z"/><path d="M126.1 208.7L130.0 210.9V215.4L126.1 217.7L122.2 215.4V210.9Z"/><path d="M125.4 218.5L129.3 220.7V225.2L125.4 227.5L121.5 225.2V220.7Z"/><path d="M126.9 207.0L130.8 209.3V213.8L126.9 216.0L123.0 213.8V209.3Z"/><path d="M127.7 218.0L131.6 220.2V224.7L127.7 227.0L123.8 224.7V220.2Z"/><path d="M128.3 220.5L132.2 222.7V227.2L128.3 229.5L124.4 227.2V222.7Z"/><path d="M130.4 213.0L134.3 215.2V219.7L130.4 222.0L126.5 219.7V215.2Z"/><path d="M131.4 215.8L135.3 218.1V222.6L131.4 224.8L127.5 222.6V218.1Z"/><path d="M132.5 210.2L136.4 212.5V217.0L132.5 219.2L128.6 217.0V212.5Z"/><path d="M132.2 212.5L136.1 214.8V219.3L132.2 221.5L128.3 219.3V214.8Z"/><path d="M134.9 207.7L138.8 209.9V214.4L134.9 216.7L131.0 214.4V209.9Z"/><path d="M134.9 205.2L138.8 207.4V211.9L134.9 214.2L131.0 211.9V207.4Z"/><path d="M136.3 210.2L140.2 212.5V217.0L136.3 219.2L132.4 217.0V212.5Z"/><path d="M138.2 201.6L142.1 203.8V208.3L138.2 210.6L134.3 208.3V203.8Z"/><path d="M139.8 205.7L143.6 208.0V212.5L139.8 214.7L135.9 212.5V208.0Z"/><path d="M140.9 194.8L144.8 197.0V201.5L140.9 203.8L137.0 201.5V197.0Z"/><path d="M141.8 198.5L145.7 200.8V205.3L141.8 207.5L137.9 205.3V200.8Z"/><path d="M143.2 190.5L147.1 192.8V197.3L143.2 199.5L139.3 197.3V192.8Z"/><path d="M143.7 196.9L147.6 199.1V203.6L143.7 205.9L139.8 203.6V199.1Z"/><path d="M145.5 191.2L149.4 193.4V197.9L145.5 200.2L141.6 197.9V193.4Z"/><path d="M147.0 190.4L150.9 192.7V197.2L147.0 199.4L143.1 197.2V192.7Z"/><path d="M148.4 194.3L152.3 196.5V201.0L148.4 203.3L144.5 201.0V196.5Z"/><path d="M149.6 190.1L153.5 192.3V196.8L149.6 199.1L145.7 196.8V192.3Z"/><path d="M150.5 188.5L154.4 190.7V195.2L150.5 197.5L146.6 195.2V190.7Z"/><path d="M152.3 189.3L156.2 191.6V196.1L152.3 198.3L148.4 196.1V191.6Z"/><path d="M153.1 184.1L157.0 186.3V190.8L153.1 193.1L149.2 190.8V186.3Z"/><path d="M155.2 182.8L159.1 185.0V189.5L155.2 191.8L151.3 189.5V185.0Z"/><path d="M156.4 181.3L160.3 183.5V188.0L156.4 190.3L152.5 188.0V183.5Z"/><path d="M158.1 178.7L162.0 180.9V185.4L158.1 187.7L154.2 185.4V180.9Z"/><path d="M159.8 176.1L163.7 178.4V182.9L159.8 185.1L155.9 182.9V178.4Z"/><path d="M161.2 174.6L165.1 176.8V181.3L161.2 183.6L157.3 181.3V176.8Z"/><path d="M162.8 173.0L166.7 175.3V179.8L162.8 182.0L158.9 179.8V175.3Z"/><path d="M164.7 171.9L168.6 174.1V178.6L164.7 180.9L160.8 178.6V174.1Z"/><path d="M166.3 170.8L170.2 173.0V177.5L166.3 179.8L162.4 177.5V173.0Z"/><path d="M167.6 167.1L171.5 169.3V173.8L167.6 176.1L163.7 173.8V169.3Z"/><path d="M169.6 167.8L173.5 170.1V174.6L169.6 176.8L165.7 174.6V170.1Z"/><path d="M170.9 165.1L174.8 167.3V171.8L170.9 174.1L167.0 171.8V167.3Z"/><path d="M172.4 164.2L176.3 166.4V170.9L172.4 173.2L168.5 170.9V166.4Z"/><path d="M173.9 162.2L177.8 164.4V168.9L173.9 171.2L170.0 168.9V164.4Z"/><path d="M175.6 159.4L179.5 161.7V166.2L175.6 168.4L171.7 166.2V161.7Z"/><path d="M177.3 161.3L181.2 163.5V168.0L177.3 170.3L173.4 168.0V163.5Z"/><path d="M179.2 158.3L183.1 160.5V165.0L179.2 167.3L175.3 165.0V160.5Z"/><path d="M180.8 153.6L184.7 155.8V160.3L180.8 162.6L176.9 160.3V155.8Z"/><path d="M182.2 151.4L186.1 153.6V158.1L182.2 160.4L178.3 158.1V153.6Z"/><path d="M183.7 153.5L187.6 155.8V160.3L183.7 162.5L179.8 160.3V155.8Z"/><path d="M185.5 147.8L189.4 150.1V154.6L185.5 156.8L181.6 154.6V150.1Z"/><path d="M186.7 141.3L190.6 143.5V148.0L186.7 150.3L182.8 148.0V143.5Z"/><path d="M188.3 144.1L192.2 146.3V150.8L188.3 153.1L184.4 150.8V146.3Z"/><path d="M190.5 142.1L194.4 144.3V148.8L190.5 151.1L186.6 148.8V144.3Z"/><path d="M191.8 139.8L195.7 142.0V146.5L191.8 148.8L187.9 146.5V142.0Z"/><path d="M193.7 138.7L197.6 141.0V145.5L193.7 147.7L189.8 145.5V141.0Z"/><path d="M194.8 136.7L198.7 138.9V143.4L194.8 145.7L190.9 143.4V138.9Z"/><path d="M196.7 136.3L200.6 138.5V143.0L196.7 145.3L192.8 143.0V138.5Z"/><path d="M198.3 134.0L202.2 136.3V140.8L198.3 143.0L194.4 140.8V136.3Z"/><path d="M200.0 134.2L203.9 136.4V140.9L200.0 143.2L196.1 140.9V136.4Z"/><path d="M201.1 131.7L205.0 133.9V138.4L201.1 140.7L197.2 138.4V133.9Z"/><path d="M203.0 131.4L206.9 133.7V138.2L203.0 140.4L199.1 138.2V133.7Z"/><path d="M204.8 128.7L208.7 130.9V135.4L204.8 137.7L200.9 135.4V130.9Z"/><path d="M206.2 127.6L210.1 129.9V134.4L206.2 136.6L202.3 134.4V129.9Z"/><path d="M207.7 127.9L211.6 130.1V134.6L207.7 136.9L203.8 134.6V130.1Z"/><path d="M209.3 126.3L213.2 128.5V133.0L209.3 135.3L205.4 133.0V128.5Z"/><path d="M211.0 125.5L214.9 127.7V132.2L211.0 134.5L207.1 132.2V127.7Z"/><path d="M212.7 124.1L216.6 126.3V130.8L212.7 133.1L208.8 130.8V126.3Z"/><path d="M214.3 124.0L218.2 126.2V130.7L214.3 133.0L210.5 130.7V126.2Z"/><path d="M215.7 123.2L219.6 125.4V129.9L215.7 132.2L211.8 129.9V125.4Z"/><path d="M217.5 122.9L221.4 125.1V129.6L217.5 131.9L213.6 129.6V125.1Z"/><path d="M218.9 122.2L222.8 124.4V128.9L218.9 131.2L215.0 128.9V124.4Z"/><path d="M220.7 122.8L224.6 125.1V129.6L220.7 131.8L216.8 129.6V125.1Z"/><path d="M222.2 122.5L226.1 124.8V129.3L222.2 131.5L218.3 129.3V124.8Z"/><path d="M223.8 121.9L227.7 124.1V128.6L223.8 130.9L219.9 128.6V124.1Z"/><path d="M225.3 122.3L229.2 124.6V129.1L225.3 131.3L221.4 129.1V124.6Z"/><path d="M226.9 121.3L230.8 123.5V128.0L226.9 130.3L223.0 128.0V123.5Z"/><path d="M228.7 121.4L232.6 123.7V128.2L228.7 130.4L224.8 128.2V123.7Z"/><path d="M230.2 120.6L234.1 122.9V127.4L230.2 129.6L226.3 127.4V122.9Z"/><path d="M231.9 120.7L235.8 123.0V127.5L231.9 129.7L228.0 127.5V123.0Z"/><path d="M233.4 120.1L237.3 122.4V126.9L233.4 129.1L229.5 126.9V122.4Z"/><path d="M234.9 120.4L238.8 122.6V127.1L234.9 129.4L231.0 127.1V122.6Z"/><path d="M236.6 119.9L240.5 122.2V126.7L236.6 128.9L232.7 126.7V122.2Z"/><path d="M238.3 120.7L242.2 122.9V127.4L238.3 129.7L234.4 127.4V122.9Z"/><path d="M239.8 119.4L243.7 121.6V126.1L239.8 128.4L235.9 126.1V121.6Z"/><path d="M241.5 119.6L245.4 121.8V126.3L241.5 128.6L237.6 126.3V121.8Z"/><path d="M243.1 118.8L247.0 121.0V125.5L243.1 127.8L239.2 125.5V121.0Z"/><path d="M244.6 119.6L248.5 121.8V126.3L244.6 128.6L240.7 126.3V121.8Z"/><path d="M246.1 118.6L250.0 120.9V125.4L246.1 127.6L242.2 125.4V120.9Z"/><path d="M247.9 118.8L251.8 121.0V125.5L247.9 127.8L244.0 125.5V121.0Z"/><path d="M249.3 119.0L253.2 121.3V125.8L249.3 128.0L245.4 125.8V121.3Z"/><path d="M250.9 118.9L254.8 121.2V125.7L250.9 127.9L247.0 125.7V121.2Z"/><path d="M252.5 119.2L256.4 121.4V125.9L252.5 128.2L248.6 125.9V121.4Z"/><path d="M254.1 118.6L258.0 120.8V125.3L254.1 127.6L250.2 125.3V120.8Z"/><path d="M255.9 118.4L259.7 120.7V125.2L255.9 127.4L252.0 125.2V120.7Z"/><path d="M257.4 118.2L261.3 120.5V125.0L257.4 127.2L253.5 125.0V120.5Z"/><path d="M259.0 118.3L262.9 120.5V125.0L259.0 127.3L255.1 125.0V120.5Z"/><path d="M260.5 118.1L264.4 120.3V124.8L260.5 127.1L256.7 124.8V120.3Z"/><path d="M262.9 117.7L266.8 119.9V124.4L262.9 126.7L259.0 124.4V119.9Z"/><path d="M265.2 117.6L269.1 119.9V124.4L265.2 126.6L261.3 124.4V119.9Z"/><path d="M267.6 117.3L271.5 119.5V124.0L267.6 126.3L263.7 124.0V119.5Z"/><path d="M269.7 116.3L273.6 118.6V123.1L269.7 125.3L265.8 123.1V118.6Z"/><path d="M272.0 115.7L275.9 118.0V122.5L272.0 124.7L268.1 122.5V118.0Z"/><path d="M274.5 114.4L278.4 116.6V121.1L274.5 123.4L270.6 121.1V116.6Z"/><path d="M276.6 114.7L280.5 116.9V121.4L276.6 123.7L272.7 121.4V116.9Z"/><path d="M279.1 112.8L283.0 115.1V119.6L279.1 121.8L275.2 119.6V115.1Z"/><path d="M281.4 111.7L285.3 114.0V118.5L281.4 120.7L277.5 118.5V114.0Z"/><path d="M283.6 111.1L287.4 113.3V117.8L283.6 120.1L279.7 117.8V113.3Z"/><path d="M286.0 110.0L289.9 112.3V116.8L286.0 119.0L282.1 116.8V112.3Z"/><path d="M288.2 109.7L292.1 111.9V116.4L288.2 118.7L284.3 116.4V111.9Z"/><path d="M290.6 107.6L294.5 109.9V114.4L290.6 116.6L286.7 114.4V109.9Z"/><path d="M292.8 107.0L296.7 109.3V113.8L292.8 116.0L288.9 113.8V109.3Z"/><path d="M295.1 105.6L299.0 107.8V112.3L295.1 114.6L291.2 112.3V107.8Z"/><path d="M297.3 104.8L301.2 107.1V111.6L297.3 113.8L293.4 111.6V107.1Z"/><path d="M299.8 103.8L303.7 106.1V110.6L299.8 112.8L295.9 110.6V106.1Z"/><path d="M302.0 102.5L305.9 104.8V109.3L302.0 111.5L298.1 109.3V104.8Z"/><path d="M304.3 102.0L308.2 104.3V108.8L304.3 111.0L300.4 108.8V104.3Z"/><path d="M306.5 100.8L310.4 103.1V107.6L306.5 109.8L302.6 107.6V103.1Z"/><path d="M308.8 99.8L312.7 102.1V106.6L308.8 108.8L304.9 106.6V102.1Z"/><path d="M311.3 99.6L315.2 101.8V106.3L311.3 108.6L307.4 106.3V101.8Z"/><path d="M313.5 99.4L317.4 101.7V106.2L313.5 108.4L309.6 106.2V101.7Z"/><path d="M315.8 99.1L319.7 101.4V105.9L315.8 108.1L311.9 105.9V101.4Z"/><path d="M318.1 98.8L322.0 101.0V105.5L318.1 107.8L314.2 105.5V101.0Z"/><path d="M320.3 97.6L324.2 99.8V104.3L320.3 106.6L316.4 104.3V99.8Z"/><path d="M322.7 97.2L326.6 99.4V103.9L322.7 106.2L318.8 103.9V99.4Z"/><path d="M325.1 98.1L329.0 100.4V104.9L325.1 107.1L321.2 104.9V100.4Z"/><path d="M327.4 97.0L331.3 99.3V103.8L327.4 106.0L323.5 103.8V99.3Z"/><path d="M329.6 96.9L333.5 99.1V103.6L329.6 105.9L325.7 103.6V99.1Z"/><path d="M331.8 96.9L335.7 99.2V103.7L331.8 105.9L327.9 103.7V99.2Z"/><path d="M334.9 96.3L338.8 98.5V103.0L334.9 105.3L331.0 103.0V98.5Z"/><path d="M337.9 96.4L341.8 98.7V103.2L337.9 105.4L334.0 103.2V98.7Z"/><path d="M341.0 95.7L344.9 97.9V102.4L341.0 104.7L337.1 102.4V97.9Z"/><path d="M343.8 95.4L347.7 97.6V102.1L343.8 104.4L339.9 102.1V97.6Z"/><path d="M346.9 94.7L350.7 97.0V101.5L346.9 103.7L343.0 101.5V97.0Z"/><path d="M349.9 95.1L353.8 97.3V101.8L349.9 104.1L346.0 101.8V97.3Z"/><path d="M352.9 94.4L356.8 96.6V101.1L352.9 103.4L349.0 101.1V96.6Z"/><path d="M355.9 93.2L359.8 95.5V100.0L355.9 102.2L352.0 100.0V95.5Z"/><path d="M358.9 93.1L362.8 95.4V99.9L358.9 102.1L355.0 99.9V95.4Z"/><path d="M361.8 92.9L365.7 95.1V99.6L361.8 101.9L357.9 99.6V95.1Z"/><path d="M364.8 92.4L368.7 94.6V99.1L364.8 101.4L360.9 99.1V94.6Z"/><path d="M367.8 92.7L371.7 94.9V99.4L367.8 101.7L363.9 99.4V94.9Z"/><path d="M370.8 92.1L374.7 94.4V98.9L370.8 101.1L366.9 98.9V94.4Z"/><path d="M373.9 91.4L377.7 93.7V98.2L373.9 100.4L370.0 98.2V93.7Z"/><path d="M377.0 90.3L380.9 92.6V97.1L377.0 99.3L373.1 97.1V92.6Z"/><path d="M379.8 90.4L383.7 92.6V97.1L379.8 99.4L375.9 97.1V92.6Z"/><path d="M382.9 90.0L386.8 92.2V96.7L382.9 99.0L379.0 96.7V92.2Z"/><path d="M385.9 89.6L389.8 91.8V96.3L385.9 98.6L382.0 96.3V91.8Z"/><path d="M388.9 88.9L392.8 91.1V95.6L388.9 97.9L385.0 95.6V91.1Z"/><path d="M392.0 88.8L395.9 91.1V95.6L392.0 97.8L388.1 95.6V91.1Z"/><path d="M394.9 88.2L398.8 90.5V95.0L394.9 97.2L391.0 95.0V90.5Z"/><path d="M398.0 86.7L401.9 88.9V93.4L398.0 95.7L394.1 93.4V88.9Z"/><path d="M400.8 86.6L404.7 88.9V93.4L400.8 95.6L396.9 93.4V88.9Z"/><path d="M404.0 85.9L407.9 88.2V92.7L404.0 94.9L400.1 92.7V88.2Z"/><path d="M406.9 84.5L410.8 86.8V91.3L406.9 93.5L403.0 91.3V86.8Z"/><path d="M410.1 84.2L414.0 86.4V90.9L410.1 93.2L406.2 90.9V86.4Z"/><path d="M412.7 84.2L416.6 86.4V90.9L412.7 93.2L408.8 90.9V86.4Z"/><path d="M416.1 83.6L420.0 85.9V90.4L416.1 92.6L412.2 90.4V85.9Z"/><path d="M418.6 79.1L422.5 81.4V85.9L418.6 88.1L414.7 85.9V81.4Z"/><path d="M421.8 75.9L425.7 78.1V82.6L421.8 84.9L417.9 82.6V78.1Z"/><path d="M426.8 70.9L430.6 73.1V77.6L426.8 79.9L422.9 77.6V73.1Z"/><path d="M431.1 66.9L435.0 69.2V73.7L431.1 75.9L427.2 73.7V69.2Z"/><path d="M435.8 63.3L439.7 65.5V70.0L435.8 72.3L431.9 70.0V65.5Z"/><path d="M440.7 57.2L444.6 59.4V63.9L440.7 66.2L436.8 63.9V59.4Z"/><path d="M445.7 59.2L449.6 61.5V66.0L445.7 68.2L441.8 66.0V61.5Z"/><path d="M449.2 66.7L453.1 68.9V73.4L449.2 75.7L445.3 73.4V68.9Z"/><path d="M456.1 56.8L460.0 59.0V63.5L456.1 65.8L452.2 63.5V59.0Z"/><path d="M460.3 54.6L464.2 56.9V61.4L460.3 63.6L456.4 61.4V56.9Z"/><path d="M467.0 51.5L470.8 53.8V58.3L467.0 60.5L463.1 58.3V53.8Z"/><path d="M472.6 45.5L476.5 47.7V52.2L472.6 54.5L468.7 52.2V47.7Z"/><path d="M480.2 37.8L484.1 40.1V44.6L480.2 46.8L476.3 44.6V40.1Z"/><path d="M486.6 20.6L490.5 22.9V27.4L486.6 29.6L482.7 27.4V22.9Z"/><path d="M493.3 7.5L497.2 9.8V14.2L493.3 16.5L489.4 14.2V9.8Z"/></g>
<g class="mk"><path d="M159.9 267.9L164.4 260.5H155.4Z"/><path d="M161.4 270.8L165.9 263.4H156.9Z"/><path d="M118.9 294.3L123.4 286.9H114.4Z"/><path d="M148.7 278.3L153.2 270.9H144.2Z"/><path d="M120.7 294.8L125.2 287.4H116.2Z"/><path d="M163.1 263.5L167.6 256.1H158.6Z"/><path d="M113.7 301.4L118.2 294.0H109.2Z"/><path d="M160.8 268.0L165.3 260.6H156.3Z"/><path d="M142.4 283.4L146.9 276.0H137.9Z"/><path d="M131.3 288.1L135.8 280.7H126.8Z"/><path d="M117.2 301.4L121.7 294.0H112.7Z"/><path d="M124.3 290.5L128.8 283.1H119.8Z"/><path d="M123.5 298.3L128.0 290.9H119.0Z"/><path d="M145.6 281.1L150.1 273.7H141.1Z"/><path d="M138.3 284.7L142.8 277.3H133.8Z"/><path d="M162.4 265.9L166.9 258.5H157.9Z"/><path d="M170.9 260.8L175.4 253.4H166.4Z"/><path d="M163.0 260.4L167.5 253.0H158.5Z"/><path d="M117.7 298.6L122.2 291.2H113.2Z"/><path d="M158.9 270.4L163.4 263.0H154.4Z"/><path d="M144.3 284.1L148.8 276.7H139.8Z"/><path d="M158.6 272.9L163.1 265.5H154.1Z"/><path d="M145.1 286.9L149.6 279.5H140.6Z"/><path d="M115.4 301.4L119.9 294.0H110.9Z"/><path d="M162.6 273.9L167.1 266.5H158.1Z"/><path d="M168.8 261.7L173.3 254.3H164.3Z"/><path d="M143.9 281.9L148.4 274.5H139.4Z"/><path d="M156.3 276.4L160.8 269.0H151.8Z"/><path d="M158.1 263.3L162.6 255.9H153.6Z"/><path d="M114.1 301.4L118.6 294.0H109.6Z"/></g>
<g class="mk"><path d="M134.7 278.3L139.2 285.7H130.2Z"/><path d="M169.3 255.2L173.8 262.6H164.8Z"/><path d="M108.3 292.6L112.8 300.0H103.8Z"/><path d="M148.2 265.1L152.7 272.5H143.7Z"/><path d="M103.9 283.8L108.4 291.2H99.4Z"/><path d="M106.7 291.2L111.2 298.6H102.2Z"/><path d="M120.9 289.7L125.4 297.1H116.4Z"/><path d="M164.1 262.2L168.6 269.6H159.6Z"/><path d="M164.7 256.7L169.2 264.1H160.2Z"/><path d="M104.4 284.6L108.9 292.0H99.9Z"/><path d="M133.7 274.9L138.2 282.3H129.2Z"/><path d="M101.9 284.2L106.4 291.6H97.4Z"/><path d="M100.6 292.6L105.1 300.0H96.1Z"/><path d="M107.9 292.6L112.4 300.0H103.4Z"/></g>
<g class="mk"><rect x="85.0" y="589.6" width="8.4" height="8.4"/><rect x="82.2" y="593.4" width="8.4" height="8.4"/><rect x="90.9" y="585.4" width="8.4" height="8.4"/><rect x="84.8" y="594.7" width="8.4" height="8.4"/><rect x="73.8" y="573.6" width="8.4" height="8.4"/><rect x="83.3" y="583.5" width="8.4" height="8.4"/><rect x="93.9" y="578.8" width="8.4" height="8.4"/><rect x="82.0" y="580.3" width="8.4" height="8.4"/><rect x="100.2" y="580.1" width="8.4" height="8.4"/><rect x="95.3" y="582.6" width="8.4" height="8.4"/><rect x="80.4" y="589.7" width="8.4" height="8.4"/><rect x="87.9" y="568.0" width="8.4" height="8.4"/><rect x="102.5" y="574.4" width="8.4" height="8.4"/><rect x="90.6" y="580.9" width="8.4" height="8.4"/><rect x="86.3" y="588.0" width="8.4" height="8.4"/><rect x="104.4" y="586.1" width="8.4" height="8.4"/><rect x="92.9" y="563.6" width="8.4" height="8.4"/><rect x="96.8" y="581.3" width="8.4" height="8.4"/><rect x="105.6" y="577.8" width="8.4" height="8.4"/><rect x="93.4" y="581.2" width="8.4" height="8.4"/><rect x="109.4" y="576.7" width="8.4" height="8.4"/><rect x="108.7" y="569.5" width="8.4" height="8.4"/><rect x="103.2" y="577.5" width="8.4" height="8.4"/><rect x="107.1" y="556.2" width="8.4" height="8.4"/><rect x="109.8" y="579.4" width="8.4" height="8.4"/><rect x="98.5" y="581.8" width="8.4" height="8.4"/><rect x="103.5" y="585.7" width="8.4" height="8.4"/><rect x="103.5" y="564.3" width="8.4" height="8.4"/><rect x="116.4" y="564.4" width="8.4" height="8.4"/><rect x="105.8" y="577.1" width="8.4" height="8.4"/><rect x="112.9" y="575.6" width="8.4" height="8.4"/><rect x="118.8" y="571.6" width="8.4" height="8.4"/><rect x="111.5" y="560.7" width="8.4" height="8.4"/><rect x="116.0" y="572.0" width="8.4" height="8.4"/><rect x="113.4" y="573.7" width="8.4" height="8.4"/><rect x="115.5" y="577.6" width="8.4" height="8.4"/><rect x="111.6" y="573.9" width="8.4" height="8.4"/><rect x="122.5" y="570.9" width="8.4" height="8.4"/><rect x="112.7" y="562.7" width="8.4" height="8.4"/><rect x="110.2" y="577.3" width="8.4" height="8.4"/><rect x="122.4" y="574.8" width="8.4" height="8.4"/><rect x="116.6" y="573.0" width="8.4" height="8.4"/><rect x="126.1" y="562.4" width="8.4" height="8.4"/><rect x="127.9" y="554.2" width="8.4" height="8.4"/><rect x="128.7" y="542.4" width="8.4" height="8.4"/><rect x="123.7" y="572.5" width="8.4" height="8.4"/><rect x="121.3" y="570.2" width="8.4" height="8.4"/><rect x="120.2" y="557.8" width="8.4" height="8.4"/><rect x="118.5" y="568.5" width="8.4" height="8.4"/><rect x="130.4" y="559.1" width="8.4" height="8.4"/><rect x="131.8" y="559.9" width="8.4" height="8.4"/><rect x="121.2" y="551.6" width="8.4" height="8.4"/><rect x="127.5" y="560.5" width="8.4" height="8.4"/><rect x="124.9" y="565.6" width="8.4" height="8.4"/><rect x="135.9" y="557.3" width="8.4" height="8.4"/><rect x="137.9" y="554.0" width="8.4" height="8.4"/><rect x="128.9" y="556.1" width="8.4" height="8.4"/><rect x="139.2" y="545.7" width="8.4" height="8.4"/><rect x="127.8" y="541.0" width="8.4" height="8.4"/><rect x="131.2" y="550.8" width="8.4" height="8.4"/><rect x="140.6" y="551.7" width="8.4" height="8.4"/><rect x="138.0" y="539.0" width="8.4" height="8.4"/><rect x="141.9" y="540.8" width="8.4" height="8.4"/><rect x="136.2" y="552.1" width="8.4" height="8.4"/><rect x="142.6" y="542.2" width="8.4" height="8.4"/><rect x="134.6" y="545.8" width="8.4" height="8.4"/><rect x="135.8" y="539.2" width="8.4" height="8.4"/><rect x="143.1" y="529.4" width="8.4" height="8.4"/><rect x="143.9" y="536.0" width="8.4" height="8.4"/><rect x="141.3" y="533.0" width="8.4" height="8.4"/><rect x="149.0" y="528.4" width="8.4" height="8.4"/><rect x="142.0" y="547.2" width="8.4" height="8.4"/><rect x="141.9" y="542.0" width="8.4" height="8.4"/><rect x="147.4" y="539.0" width="8.4" height="8.4"/><rect x="150.6" y="538.1" width="8.4" height="8.4"/><rect x="147.2" y="540.7" width="8.4" height="8.4"/><rect x="151.7" y="528.0" width="8.4" height="8.4"/><rect x="150.8" y="529.6" width="8.4" height="8.4"/><rect x="153.4" y="530.1" width="8.4" height="8.4"/><rect x="157.3" y="525.3" width="8.4" height="8.4"/><rect x="158.5" y="521.0" width="8.4" height="8.4"/><rect x="160.8" y="516.3" width="8.4" height="8.4"/><rect x="156.5" y="518.3" width="8.4" height="8.4"/><rect x="160.7" y="507.0" width="8.4" height="8.4"/><rect x="160.4" y="514.9" width="8.4" height="8.4"/><rect x="164.6" y="503.9" width="8.4" height="8.4"/><rect x="163.9" y="500.8" width="8.4" height="8.4"/><rect x="164.2" y="500.4" width="8.4" height="8.4"/><rect x="168.8" y="488.7" width="8.4" height="8.4"/><rect x="168.6" y="488.0" width="8.4" height="8.4"/><rect x="170.3" y="482.3" width="8.4" height="8.4"/><rect x="171.0" y="478.3" width="8.4" height="8.4"/><rect x="172.8" y="472.9" width="8.4" height="8.4"/><rect x="174.2" y="468.0" width="8.4" height="8.4"/><rect x="175.2" y="464.2" width="8.4" height="8.4"/><rect x="176.5" y="460.8" width="8.4" height="8.4"/><rect x="178.1" y="457.2" width="8.4" height="8.4"/><rect x="179.0" y="454.8" width="8.4" height="8.4"/><rect x="180.1" y="451.6" width="8.4" height="8.4"/><rect x="181.4" y="450.7" width="8.4" height="8.4"/><rect x="183.2" y="448.0" width="8.4" height="8.4"/><rect x="184.3" y="446.0" width="8.4" height="8.4"/><rect x="185.7" y="443.7" width="8.4" height="8.4"/><rect x="186.9" y="441.6" width="8.4" height="8.4"/><rect x="188.1" y="438.8" width="8.4" height="8.4"/><rect x="189.3" y="436.7" width="8.4" height="8.4"/><rect x="190.6" y="434.6" width="8.4" height="8.4"/><rect x="192.2" y="432.0" width="8.4" height="8.4"/><rect x="193.4" y="430.4" width="8.4" height="8.4"/><rect x="194.5" y="428.3" width="8.4" height="8.4"/><rect x="196.1" y="427.4" width="8.4" height="8.4"/><rect x="198.5" y="426.1" width="8.4" height="8.4"/><rect x="200.4" y="425.0" width="8.4" height="8.4"/><rect x="202.7" y="423.7" width="8.4" height="8.4"/><rect x="204.9" y="422.6" width="8.4" height="8.4"/><rect x="207.2" y="420.6" width="8.4" height="8.4"/><rect x="209.3" y="419.4" width="8.4" height="8.4"/><rect x="211.5" y="417.8" width="8.4" height="8.4"/><rect x="213.5" y="417.3" width="8.4" height="8.4"/><rect x="215.9" y="416.3" width="8.4" height="8.4"/><rect x="218.3" y="414.7" width="8.4" height="8.4"/><rect x="219.9" y="412.3" width="8.4" height="8.4"/><rect x="222.3" y="411.5" width="8.4" height="8.4"/><rect x="224.4" y="410.2" width="8.4" height="8.4"/><rect x="226.7" y="408.3" width="8.4" height="8.4"/><rect x="229.3" y="407.1" width="8.4" height="8.4"/><rect x="230.9" y="406.2" width="8.4" height="8.4"/><rect x="233.7" y="404.9" width="8.4" height="8.4"/><rect x="235.5" y="404.5" width="8.4" height="8.4"/><rect x="237.9" y="403.6" width="8.4" height="8.4"/><rect x="240.3" y="403.1" width="8.4" height="8.4"/><rect x="242.1" y="402.4" width="8.4" height="8.4"/><rect x="244.2" y="402.1" width="8.4" height="8.4"/><rect x="246.7" y="401.9" width="8.4" height="8.4"/><rect x="248.7" y="401.3" width="8.4" height="8.4"/><rect x="250.9" y="401.2" width="8.4" height="8.4"/><rect x="253.2" y="401.0" width="8.4" height="8.4"/><rect x="255.5" y="400.2" width="8.4" height="8.4"/><rect x="257.5" y="399.8" width="8.4" height="8.4"/><rect x="259.7" y="399.4" width="8.4" height="8.4"/><rect x="261.7" y="398.8" width="8.4" height="8.4"/><rect x="264.4" y="398.1" width="8.4" height="8.4"/><rect x="266.1" y="397.2" width="8.4" height="8.4"/><rect x="268.6" y="395.6" width="8.4" height="8.4"/><rect x="270.9" y="394.7" width="8.4" height="8.4"/><rect x="272.8" y="393.0" width="8.4" height="8.4"/><rect x="274.9" y="391.6" width="8.4" height="8.4"/><rect x="277.3" y="389.6" width="8.4" height="8.4"/><rect x="279.5" y="387.1" width="8.4" height="8.4"/><rect x="281.6" y="386.4" width="8.4" height="8.4"/><rect x="284.0" y="384.7" width="8.4" height="8.4"/><rect x="285.9" y="382.5" width="8.4" height="8.4"/><rect x="288.4" y="382.0" width="8.4" height="8.4"/><rect x="290.4" y="380.9" width="8.4" height="8.4"/><rect x="293.1" y="379.4" width="8.4" height="8.4"/><rect x="295.2" y="377.4" width="8.4" height="8.4"/><rect x="296.9" y="377.1" width="8.4" height="8.4"/><rect x="299.7" y="375.5" width="8.4" height="8.4"/><rect x="301.4" y="374.2" width="8.4" height="8.4"/><rect x="303.5" y="372.3" width="8.4" height="8.4"/><rect x="306.1" y="371.7" width="8.4" height="8.4"/><rect x="308.2" y="369.7" width="8.4" height="8.4"/><rect x="310.3" y="368.8" width="8.4" height="8.4"/><rect x="312.5" y="366.9" width="8.4" height="8.4"/><rect x="315.0" y="366.0" width="8.4" height="8.4"/><rect x="316.7" y="365.7" width="8.4" height="8.4"/><rect x="319.3" y="365.1" width="8.4" height="8.4"/><rect x="321.2" y="364.5" width="8.4" height="8.4"/><rect x="323.3" y="363.9" width="8.4" height="8.4"/><rect x="325.8" y="363.5" width="8.4" height="8.4"/><rect x="327.8" y="362.8" width="8.4" height="8.4"/><rect x="329.9" y="362.1" width="8.4" height="8.4"/><rect x="332.3" y="362.5" width="8.4" height="8.4"/><rect x="334.7" y="361.7" width="8.4" height="8.4"/><rect x="336.5" y="361.6" width="8.4" height="8.4"/><rect x="339.2" y="360.9" width="8.4" height="8.4"/><rect x="341.1" y="361.1" width="8.4" height="8.4"/><rect x="343.4" y="360.9" width="8.4" height="8.4"/><rect x="345.7" y="360.5" width="8.4" height="8.4"/><rect x="347.8" y="360.3" width="8.4" height="8.4"/><rect x="350.2" y="360.4" width="8.4" height="8.4"/><rect x="352.5" y="360.5" width="8.4" height="8.4"/><rect x="354.6" y="360.1" width="8.4" height="8.4"/><rect x="356.9" y="360.0" width="8.4" height="8.4"/><rect x="360.4" y="359.7" width="8.4" height="8.4"/><rect x="363.5" y="360.7" width="8.4" height="8.4"/><rect x="367.3" y="361.6" width="8.4" height="8.4"/><rect x="370.3" y="361.2" width="8.4" height="8.4"/><rect x="374.2" y="361.4" width="8.4" height="8.4"/><rect x="377.8" y="362.0" width="8.4" height="8.4"/><rect x="381.4" y="361.7" width="8.4" height="8.4"/><rect x="384.6" y="361.5" width="8.4" height="8.4"/><rect x="388.4" y="361.4" width="8.4" height="8.4"/><rect x="391.6" y="360.7" width="8.4" height="8.4"/><rect x="395.3" y="360.0" width="8.4" height="8.4"/><rect x="398.5" y="358.2" width="8.4" height="8.4"/><rect x="401.9" y="357.8" width="8.4" height="8.4"/><rect x="405.6" y="356.3" width="8.4" height="8.4"/><rect x="408.9" y="355.1" width="8.4" height="8.4"/><rect x="414.4" y="352.3" width="8.4" height="8.4"/><rect x="420.0" y="350.1" width="8.4" height="8.4"/><rect x="426.0" y="348.0" width="8.4" height="8.4"/><rect x="431.8" y="343.3" width="8.4" height="8.4"/><rect x="437.1" y="338.6" width="8.4" height="8.4"/><rect x="442.5" y="333.6" width="8.4" height="8.4"/><rect x="448.1" y="326.5" width="8.4" height="8.4"/><rect x="454.1" y="317.4" width="8.4" height="8.4"/><rect x="459.7" y="310.4" width="8.4" height="8.4"/><rect x="461.8" y="309.0" width="8.4" height="8.4"/></g>
<g class="mk"><circle cx="88.3" cy="574.1" r="4.90"/><circle cx="91.0" cy="570.8" r="4.90"/><circle cx="91.8" cy="570.0" r="4.90"/><circle cx="92.7" cy="568.6" r="4.90"/><circle cx="94.9" cy="566.4" r="4.90"/><circle cx="95.2" cy="561.1" r="4.90"/><circle cx="97.1" cy="554.9" r="4.90"/><circle cx="98.7" cy="553.3" r="4.90"/><circle cx="100.0" cy="554.0" r="4.90"/><circle cx="100.8" cy="551.4" r="4.90"/><circle cx="102.3" cy="549.4" r="4.90"/><circle cx="103.4" cy="548.5" r="4.90"/><circle cx="105.0" cy="548.0" r="4.90"/><circle cx="106.0" cy="542.9" r="4.90"/><circle cx="107.0" cy="541.4" r="4.90"/><circle cx="108.9" cy="538.4" r="4.90"/><circle cx="110.2" cy="537.6" r="4.90"/><circle cx="111.2" cy="539.1" r="4.90"/><circle cx="112.5" cy="536.9" r="4.90"/><circle cx="113.4" cy="535.7" r="4.90"/><circle cx="114.6" cy="533.8" r="4.90"/><circle cx="116.7" cy="531.2" r="4.90"/><circle cx="117.5" cy="527.6" r="4.90"/><circle cx="119.0" cy="527.8" r="4.90"/><circle cx="120.1" cy="527.4" r="4.90"/><circle cx="121.6" cy="524.3" r="4.90"/><circle cx="122.8" cy="522.9" r="4.90"/><circle cx="124.0" cy="523.7" r="4.90"/><circle cx="125.1" cy="519.5" r="4.90"/><circle cx="127.1" cy="517.1" r="4.90"/><circle cx="127.9" cy="516.1" r="4.90"/><circle cx="129.7" cy="516.5" r="4.90"/><circle cx="130.5" cy="515.3" r="4.90"/><circle cx="131.6" cy="511.5" r="4.90"/><circle cx="133.2" cy="511.0" r="4.90"/><circle cx="134.4" cy="508.1" r="4.90"/><circle cx="135.5" cy="506.4" r="4.90"/><circle cx="136.7" cy="506.5" r="4.90"/><circle cx="138.5" cy="501.3" r="4.90"/><circle cx="139.4" cy="501.6" r="4.90"/><circle cx="140.9" cy="500.4" r="4.90"/><circle cx="142.6" cy="498.5" r="4.90"/><circle cx="143.9" cy="498.7" r="4.90"/><circle cx="144.9" cy="495.0" r="4.90"/><circle cx="146.6" cy="492.3" r="4.90"/><circle cx="147.7" cy="492.3" r="4.90"/><circle cx="148.9" cy="488.7" r="4.90"/><circle cx="150.0" cy="489.8" r="4.90"/><circle cx="151.5" cy="488.4" r="4.90"/><circle cx="153.1" cy="483.8" r="4.90"/><circle cx="154.1" cy="486.4" r="4.90"/><circle cx="155.2" cy="483.4" r="4.90"/><circle cx="156.5" cy="482.7" r="4.90"/><circle cx="157.7" cy="482.1" r="4.90"/><circle cx="159.1" cy="482.2" r="4.90"/><circle cx="160.2" cy="478.1" r="4.90"/><circle cx="162.1" cy="475.7" r="4.90"/><circle cx="162.8" cy="474.9" r="4.90"/><circle cx="164.4" cy="472.1" r="4.90"/><circle cx="165.5" cy="471.1" r="4.90"/><circle cx="167.4" cy="467.5" r="4.90"/><circle cx="168.6" cy="469.0" r="4.90"/><circle cx="169.9" cy="466.6" r="4.90"/><circle cx="170.5" cy="463.8" r="4.90"/><circle cx="172.1" cy="462.1" r="4.90"/><circle cx="173.7" cy="461.3" r="4.90"/><circle cx="174.6" cy="457.5" r="4.90"/><circle cx="176.0" cy="455.2" r="4.90"/><circle cx="177.4" cy="453.7" r="4.90"/><circle cx="178.6" cy="451.7" r="4.90"/><circle cx="179.9" cy="450.0" r="4.90"/><circle cx="181.3" cy="446.8" r="4.90"/><circle cx="182.6" cy="445.0" r="4.90"/><circle cx="183.8" cy="443.0" r="4.90"/><circle cx="185.2" cy="441.2" r="4.90"/><circle cx="186.6" cy="439.2" r="4.90"/><circle cx="187.8" cy="437.7" r="4.90"/><circle cx="189.0" cy="435.4" r="4.90"/><circle cx="190.5" cy="433.4" r="4.90"/><circle cx="191.6" cy="433.1" r="4.90"/><circle cx="192.9" cy="430.1" r="4.90"/><circle cx="194.4" cy="429.5" r="4.90"/><circle cx="195.6" cy="428.0" r="4.90"/><circle cx="197.0" cy="425.7" r="4.90"/><circle cx="198.1" cy="424.5" r="4.90"/><circle cx="199.4" cy="423.5" r="4.90"/><circle cx="200.9" cy="422.8" r="4.90"/><circle cx="202.2" cy="420.9" r="4.90"/><circle cx="203.4" cy="420.7" r="4.90"/><circle cx="204.8" cy="419.4" r="4.90"/><circle cx="206.0" cy="418.6" r="4.90"/><circle cx="207.2" cy="417.2" r="4.90"/><circle cx="208.6" cy="417.0" r="4.90"/><circle cx="209.8" cy="416.2" r="4.90"/><circle cx="211.1" cy="413.9" r="4.90"/><circle cx="212.5" cy="414.3" r="4.90"/><circle cx="213.8" cy="414.1" r="4.90"/><circle cx="215.2" cy="412.4" r="4.90"/><circle cx="216.5" cy="413.4" r="4.90"/><circle cx="217.8" cy="411.6" r="4.90"/><circle cx="218.9" cy="410.9" r="4.90"/><circle cx="220.2" cy="410.0" r="4.90"/><circle cx="221.7" cy="408.5" r="4.90"/><circle cx="222.9" cy="409.1" r="4.90"/><circle cx="224.1" cy="408.1" r="4.90"/><circle cx="225.6" cy="407.7" r="4.90"/><circle cx="226.9" cy="408.6" r="4.90"/><circle cx="228.2" cy="407.2" r="4.90"/><circle cx="229.3" cy="406.8" r="4.90"/><circle cx="230.6" cy="406.4" r="4.90"/><circle cx="231.9" cy="407.5" r="4.90"/><circle cx="233.2" cy="406.5" r="4.90"/><circle cx="234.6" cy="405.7" r="4.90"/><circle cx="235.8" cy="405.7" r="4.90"/><circle cx="237.2" cy="405.5" r="4.90"/><circle cx="238.5" cy="405.5" r="4.90"/><circle cx="239.8" cy="404.9" r="4.90"/><circle cx="241.2" cy="404.1" r="4.90"/><circle cx="242.3" cy="404.7" r="4.90"/><circle cx="243.8" cy="403.9" r="4.90"/><circle cx="244.9" cy="403.5" r="4.90"/><circle cx="246.2" cy="403.6" r="4.90"/><circle cx="247.5" cy="403.3" r="4.90"/><circle cx="249.0" cy="403.4" r="4.90"/><circle cx="250.2" cy="403.1" r="4.90"/><circle cx="251.6" cy="402.5" r="4.90"/><circle cx="252.8" cy="402.4" r="4.90"/><circle cx="254.1" cy="402.4" r="4.90"/><circle cx="255.4" cy="402.8" r="4.90"/><circle cx="256.7" cy="401.8" r="4.90"/><circle cx="258.1" cy="402.6" r="4.90"/><circle cx="259.4" cy="401.9" r="4.90"/><circle cx="260.5" cy="401.1" r="4.90"/><circle cx="261.8" cy="401.4" r="4.90"/><circle cx="263.3" cy="401.1" r="4.90"/><circle cx="264.4" cy="400.9" r="4.90"/><circle cx="265.8" cy="399.3" r="4.90"/><circle cx="267.0" cy="399.8" r="4.90"/><circle cx="268.3" cy="399.7" r="4.90"/><circle cx="269.6" cy="398.3" r="4.90"/><circle cx="271.0" cy="397.6" r="4.90"/><circle cx="272.3" cy="396.3" r="4.90"/><circle cx="273.6" cy="396.3" r="4.90"/><circle cx="275.0" cy="395.7" r="4.90"/><circle cx="276.1" cy="394.1" r="4.90"/><circle cx="277.6" cy="393.7" r="4.90"/><circle cx="278.8" cy="393.2" r="4.90"/><circle cx="280.2" cy="391.8" r="4.90"/><circle cx="281.3" cy="390.4" r="4.90"/><circle cx="282.7" cy="389.5" r="4.90"/><circle cx="284.0" cy="388.1" r="4.90"/><circle cx="285.4" cy="388.2" r="4.90"/><circle cx="286.6" cy="386.3" r="4.90"/><circle cx="287.8" cy="385.6" r="4.90"/><circle cx="289.2" cy="384.9" r="4.90"/><circle cx="290.4" cy="384.0" r="4.90"/><circle cx="291.9" cy="383.5" r="4.90"/><circle cx="293.2" cy="382.4" r="4.90"/><circle cx="294.4" cy="382.0" r="4.90"/><circle cx="295.7" cy="381.4" r="4.90"/><circle cx="297.0" cy="380.4" r="4.90"/><circle cx="298.4" cy="379.6" r="4.90"/><circle cx="299.6" cy="379.4" r="4.90"/><circle cx="300.8" cy="378.9" r="4.90"/><circle cx="303.1" cy="376.9" r="4.90"/><circle cx="305.2" cy="375.5" r="4.90"/><circle cx="307.4" cy="374.4" r="4.90"/><circle cx="309.7" cy="372.9" r="4.90"/><circle cx="311.9" cy="370.7" r="4.90"/><circle cx="314.0" cy="370.4" r="4.90"/><circle cx="316.2" cy="369.5" r="4.90"/><circle cx="318.4" cy="369.0" r="4.90"/><circle cx="320.7" cy="368.2" r="4.90"/><circle cx="323.0" cy="367.4" r="4.90"/><circle cx="325.1" cy="366.5" r="4.90"/><circle cx="327.4" cy="366.4" r="4.90"/><circle cx="329.5" cy="366.7" r="4.90"/><circle cx="331.6" cy="367.1" r="4.90"/><circle cx="333.8" cy="365.5" r="4.90"/><circle cx="336.2" cy="365.9" r="4.90"/><circle cx="338.4" cy="365.5" r="4.90"/><circle cx="340.6" cy="364.2" r="4.90"/><circle cx="342.8" cy="363.7" r="4.90"/><circle cx="345.0" cy="363.5" r="4.90"/><circle cx="347.0" cy="362.7" r="4.90"/><circle cx="349.3" cy="363.0" r="4.90"/><circle cx="351.4" cy="362.9" r="4.90"/><circle cx="353.7" cy="362.0" r="4.90"/><circle cx="355.8" cy="362.4" r="4.90"/><circle cx="358.1" cy="362.1" r="4.90"/><circle cx="360.2" cy="363.3" r="4.90"/><circle cx="363.9" cy="362.9" r="4.90"/><circle cx="367.2" cy="362.7" r="4.90"/><circle cx="370.7" cy="363.4" r="4.90"/><circle cx="374.4" cy="363.6" r="4.90"/><circle cx="377.8" cy="364.7" r="4.90"/><circle cx="381.4" cy="363.8" r="4.90"/><circle cx="384.8" cy="364.9" r="4.90"/><circle cx="388.2" cy="364.7" r="4.90"/><circle cx="391.7" cy="364.2" r="4.90"/><circle cx="395.4" cy="363.0" r="4.90"/><circle cx="398.7" cy="361.9" r="4.90"/><circle cx="402.2" cy="360.8" r="4.90"/><circle cx="405.9" cy="357.8" r="4.90"/><circle cx="409.4" cy="356.7" r="4.90"/><circle cx="412.8" cy="354.1" r="4.90"/><circle cx="418.3" cy="351.8" r="4.90"/><circle cx="424.1" cy="347.0" r="4.90"/><circle cx="429.6" cy="338.9" r="4.90"/><circle cx="435.1" cy="333.7" r="4.90"/><circle cx="440.8" cy="330.3" r="4.90"/><circle cx="446.3" cy="325.7" r="4.90"/><circle cx="452.1" cy="319.4" r="4.90"/><circle cx="457.6" cy="313.7" r="4.90"/></g>
<g class="mkf"><circle cx="107.2" cy="615.4" r="4.00"/><circle cx="107.8" cy="611.3" r="4.00"/><circle cx="109.0" cy="610.4" r="4.00"/><circle cx="109.8" cy="609.4" r="4.00"/><circle cx="110.8" cy="609.1" r="4.00"/><circle cx="112.0" cy="608.4" r="4.00"/><circle cx="113.1" cy="606.5" r="4.00"/><circle cx="114.0" cy="604.7" r="4.00"/><circle cx="114.9" cy="601.5" r="4.00"/><circle cx="115.7" cy="601.4" r="4.00"/><circle cx="117.1" cy="600.0" r="4.00"/><circle cx="118.1" cy="596.6" r="4.00"/><circle cx="119.2" cy="597.0" r="4.00"/><circle cx="119.9" cy="593.9" r="4.00"/><circle cx="120.9" cy="590.7" r="4.00"/><circle cx="121.8" cy="589.4" r="4.00"/><circle cx="123.1" cy="586.4" r="4.00"/><circle cx="124.0" cy="586.3" r="4.00"/><circle cx="124.8" cy="583.6" r="4.00"/><circle cx="125.9" cy="581.4" r="4.00"/><circle cx="126.8" cy="580.1" r="4.00"/><circle cx="127.8" cy="577.2" r="4.00"/><circle cx="129.0" cy="576.5" r="4.00"/><circle cx="130.2" cy="573.9" r="4.00"/><circle cx="130.9" cy="571.3" r="4.00"/><circle cx="131.9" cy="570.8" r="4.00"/><circle cx="132.9" cy="568.5" r="4.00"/><circle cx="133.8" cy="565.4" r="4.00"/><circle cx="135.2" cy="565.3" r="4.00"/><circle cx="135.8" cy="561.9" r="4.00"/><circle cx="137.1" cy="559.8" r="4.00"/><circle cx="138.3" cy="559.8" r="4.00"/><circle cx="138.7" cy="560.3" r="4.00"/><circle cx="139.9" cy="559.8" r="4.00"/><circle cx="141.1" cy="557.8" r="4.00"/><circle cx="142.3" cy="554.9" r="4.00"/><circle cx="143.0" cy="554.0" r="4.00"/><circle cx="144.3" cy="549.5" r="4.00"/><circle cx="145.3" cy="550.4" r="4.00"/><circle cx="145.9" cy="548.2" r="4.00"/><circle cx="147.0" cy="547.9" r="4.00"/><circle cx="147.8" cy="546.9" r="4.00"/><circle cx="148.8" cy="547.4" r="4.00"/><circle cx="149.8" cy="542.9" r="4.00"/><circle cx="151.0" cy="542.1" r="4.00"/><circle cx="152.2" cy="541.3" r="4.00"/><circle cx="153.2" cy="540.1" r="4.00"/><circle cx="154.0" cy="539.9" r="4.00"/><circle cx="155.2" cy="536.4" r="4.00"/><circle cx="156.2" cy="538.1" r="4.00"/><circle cx="157.1" cy="534.7" r="4.00"/><circle cx="158.2" cy="532.9" r="4.00"/><circle cx="158.9" cy="532.2" r="4.00"/><circle cx="159.9" cy="530.9" r="4.00"/><circle cx="161.0" cy="530.4" r="4.00"/><circle cx="162.2" cy="527.9" r="4.00"/><circle cx="162.9" cy="529.1" r="4.00"/><circle cx="164.0" cy="527.8" r="4.00"/><circle cx="165.3" cy="526.2" r="4.00"/><circle cx="165.7" cy="524.1" r="4.00"/><circle cx="166.8" cy="522.6" r="4.00"/><circle cx="168.0" cy="522.2" r="4.00"/><circle cx="169.1" cy="520.6" r="4.00"/><circle cx="169.7" cy="520.9" r="4.00"/><circle cx="170.8" cy="518.5" r="4.00"/><circle cx="172.2" cy="520.0" r="4.00"/><circle cx="172.8" cy="518.3" r="4.00"/><circle cx="174.0" cy="518.4" r="4.00"/><circle cx="175.1" cy="515.8" r="4.00"/><circle cx="176.0" cy="515.5" r="4.00"/><circle cx="177.0" cy="514.1" r="4.00"/><circle cx="178.0" cy="512.6" r="4.00"/><circle cx="178.8" cy="512.4" r="4.00"/><circle cx="180.2" cy="514.3" r="4.00"/><circle cx="181.2" cy="512.3" r="4.00"/><circle cx="182.1" cy="509.9" r="4.00"/><circle cx="182.9" cy="509.5" r="4.00"/><circle cx="183.9" cy="508.9" r="4.00"/><circle cx="184.9" cy="507.9" r="4.00"/><circle cx="185.9" cy="510.4" r="4.00"/><circle cx="187.0" cy="505.7" r="4.00"/><circle cx="188.0" cy="507.5" r="4.00"/><circle cx="188.8" cy="505.9" r="4.00"/><circle cx="189.8" cy="506.1" r="4.00"/><circle cx="191.0" cy="504.5" r="4.00"/><circle cx="191.8" cy="505.9" r="4.00"/><circle cx="193.0" cy="502.9" r="4.00"/><circle cx="194.0" cy="502.8" r="4.00"/><circle cx="195.2" cy="502.5" r="4.00"/><circle cx="195.8" cy="500.8" r="4.00"/><circle cx="196.7" cy="502.1" r="4.00"/><circle cx="198.2" cy="499.8" r="4.00"/><circle cx="198.8" cy="499.1" r="4.00"/><circle cx="200.2" cy="499.5" r="4.00"/><circle cx="200.9" cy="499.2" r="4.00"/><circle cx="202.1" cy="498.0" r="4.00"/><circle cx="203.2" cy="496.3" r="4.00"/><circle cx="204.1" cy="496.0" r="4.00"/><circle cx="205.2" cy="496.2" r="4.00"/><circle cx="205.8" cy="496.5" r="4.00"/><circle cx="206.8" cy="494.7" r="4.00"/><circle cx="208.1" cy="492.7" r="4.00"/><circle cx="209.0" cy="490.2" r="4.00"/><circle cx="210.2" cy="491.3" r="4.00"/><circle cx="211.1" cy="490.8" r="4.00"/><circle cx="211.9" cy="488.2" r="4.00"/><circle cx="213.2" cy="488.9" r="4.00"/><circle cx="213.8" cy="488.1" r="4.00"/><circle cx="215.1" cy="486.1" r="4.00"/><circle cx="216.0" cy="486.5" r="4.00"/><circle cx="216.9" cy="485.9" r="4.00"/><circle cx="218.1" cy="483.5" r="4.00"/><circle cx="218.9" cy="483.4" r="4.00"/><circle cx="220.2" cy="480.4" r="4.00"/><circle cx="220.8" cy="484.7" r="4.00"/><circle cx="221.9" cy="480.7" r="4.00"/><circle cx="222.7" cy="480.5" r="4.00"/><circle cx="223.9" cy="477.5" r="4.00"/><circle cx="225.0" cy="478.3" r="4.00"/><circle cx="225.8" cy="476.1" r="4.00"/><circle cx="226.9" cy="476.6" r="4.00"/><circle cx="228.0" cy="476.3" r="4.00"/><circle cx="228.9" cy="475.9" r="4.00"/><circle cx="229.8" cy="473.2" r="4.00"/><circle cx="231.0" cy="473.0" r="4.00"/><circle cx="231.8" cy="474.1" r="4.00"/><circle cx="233.3" cy="472.5" r="4.00"/><circle cx="234.0" cy="469.8" r="4.00"/><circle cx="235.1" cy="469.3" r="4.00"/><circle cx="236.3" cy="468.4" r="4.00"/><circle cx="237.0" cy="469.7" r="4.00"/><circle cx="237.7" cy="467.1" r="4.00"/><circle cx="238.9" cy="466.9" r="4.00"/><circle cx="239.7" cy="464.6" r="4.00"/><circle cx="241.3" cy="465.4" r="4.00"/><circle cx="242.1" cy="463.7" r="4.00"/><circle cx="242.9" cy="462.1" r="4.00"/><circle cx="243.8" cy="460.1" r="4.00"/><circle cx="245.1" cy="460.3" r="4.00"/><circle cx="246.0" cy="459.4" r="4.00"/><circle cx="246.7" cy="458.1" r="4.00"/><circle cx="248.0" cy="457.5" r="4.00"/><circle cx="248.9" cy="457.6" r="4.00"/><circle cx="250.1" cy="456.8" r="4.00"/><circle cx="251.0" cy="454.7" r="4.00"/><circle cx="251.8" cy="452.3" r="4.00"/><circle cx="252.9" cy="451.1" r="4.00"/><circle cx="253.9" cy="454.0" r="4.00"/><circle cx="255.2" cy="449.5" r="4.00"/><circle cx="255.9" cy="449.9" r="4.00"/><circle cx="257.2" cy="449.1" r="4.00"/><circle cx="258.0" cy="448.0" r="4.00"/><circle cx="259.1" cy="447.6" r="4.00"/><circle cx="260.3" cy="445.9" r="4.00"/><circle cx="261.3" cy="445.1" r="4.00"/><circle cx="262.3" cy="444.1" r="4.00"/><circle cx="262.7" cy="445.1" r="4.00"/><circle cx="263.7" cy="444.0" r="4.00"/><circle cx="265.3" cy="442.4" r="4.00"/><circle cx="266.1" cy="439.6" r="4.00"/><circle cx="267.0" cy="439.6" r="4.00"/><circle cx="268.3" cy="439.5" r="4.00"/><circle cx="268.8" cy="437.5" r="4.00"/><circle cx="270.1" cy="436.4" r="4.00"/><circle cx="271.2" cy="437.2" r="4.00"/><circle cx="271.8" cy="436.1" r="4.00"/><circle cx="273.1" cy="435.9" r="4.00"/><circle cx="273.8" cy="435.4" r="4.00"/><circle cx="275.2" cy="434.4" r="4.00"/><circle cx="276.2" cy="433.7" r="4.00"/><circle cx="277.2" cy="431.9" r="4.00"/><circle cx="278.1" cy="431.8" r="4.00"/><circle cx="278.9" cy="432.8" r="4.00"/><circle cx="280.1" cy="432.4" r="4.00"/><circle cx="280.9" cy="428.1" r="4.00"/><circle cx="282.2" cy="429.4" r="4.00"/><circle cx="283.1" cy="429.7" r="4.00"/><circle cx="284.1" cy="428.6" r="4.00"/><circle cx="285.2" cy="427.8" r="4.00"/><circle cx="286.2" cy="426.2" r="4.00"/><circle cx="287.0" cy="426.4" r="4.00"/><circle cx="288.3" cy="425.8" r="4.00"/><circle cx="289.0" cy="423.8" r="4.00"/><circle cx="290.2" cy="423.2" r="4.00"/><circle cx="291.1" cy="422.0" r="4.00"/><circle cx="292.3" cy="422.3" r="4.00"/><circle cx="292.9" cy="422.4" r="4.00"/><circle cx="294.1" cy="419.3" r="4.00"/><circle cx="295.3" cy="421.1" r="4.00"/><circle cx="296.2" cy="418.3" r="4.00"/><circle cx="296.9" cy="419.9" r="4.00"/><circle cx="297.8" cy="419.3" r="4.00"/><circle cx="299.2" cy="414.9" r="4.00"/><circle cx="299.9" cy="417.2" r="4.00"/><circle cx="302.1" cy="416.0" r="4.00"/><circle cx="304.0" cy="415.5" r="4.00"/><circle cx="305.9" cy="414.3" r="4.00"/><circle cx="307.8" cy="413.7" r="4.00"/><circle cx="310.1" cy="410.6" r="4.00"/><circle cx="312.1" cy="410.3" r="4.00"/><circle cx="314.0" cy="411.0" r="4.00"/><circle cx="316.1" cy="410.4" r="4.00"/><circle cx="318.2" cy="408.7" r="4.00"/><circle cx="319.9" cy="408.1" r="4.00"/><circle cx="322.1" cy="407.1" r="4.00"/><circle cx="323.9" cy="405.3" r="4.00"/><circle cx="326.0" cy="405.4" r="4.00"/><circle cx="328.1" cy="404.2" r="4.00"/><circle cx="330.0" cy="402.3" r="4.00"/><circle cx="332.1" cy="403.0" r="4.00"/><circle cx="334.2" cy="402.7" r="4.00"/><circle cx="335.8" cy="403.0" r="4.00"/><circle cx="338.1" cy="402.4" r="4.00"/><circle cx="339.9" cy="400.7" r="4.00"/><circle cx="342.0" cy="401.1" r="4.00"/><circle cx="344.2" cy="400.0" r="4.00"/><circle cx="346.2" cy="401.5" r="4.00"/><circle cx="347.9" cy="400.1" r="4.00"/><circle cx="350.0" cy="399.8" r="4.00"/><circle cx="352.2" cy="399.9" r="4.00"/><circle cx="354.0" cy="397.5" r="4.00"/><circle cx="356.2" cy="396.9" r="4.00"/><circle cx="358.0" cy="397.0" r="4.00"/><circle cx="360.0" cy="399.0" r="4.00"/><circle cx="363.3" cy="399.4" r="4.00"/><circle cx="366.9" cy="400.9" r="4.00"/><circle cx="370.5" cy="400.9" r="4.00"/><circle cx="373.9" cy="401.0" r="4.00"/><circle cx="377.6" cy="401.3" r="4.00"/><circle cx="381.1" cy="399.4" r="4.00"/><circle cx="384.5" cy="399.2" r="4.00"/><circle cx="387.9" cy="398.9" r="4.00"/><circle cx="391.6" cy="398.5" r="4.00"/><circle cx="394.9" cy="397.1" r="4.00"/><circle cx="398.6" cy="397.0" r="4.00"/><circle cx="401.9" cy="396.1" r="4.00"/><circle cx="405.6" cy="396.4" r="4.00"/><circle cx="409.2" cy="393.5" r="4.00"/><circle cx="412.6" cy="393.8" r="4.00"/><circle cx="418.2" cy="391.5" r="4.00"/><circle cx="423.7" cy="389.0" r="4.00"/><circle cx="429.3" cy="385.3" r="4.00"/><circle cx="434.9" cy="382.7" r="4.00"/><circle cx="440.4" cy="380.1" r="4.00"/><circle cx="445.9" cy="378.8" r="4.00"/><circle cx="451.6" cy="375.0" r="4.00"/><circle cx="457.4" cy="368.7" r="4.00"/><circle cx="462.8" cy="361.1" r="4.00"/><circle cx="468.4" cy="355.0" r="4.00"/><circle cx="474.1" cy="350.0" r="4.00"/><circle cx="479.8" cy="343.9" r="4.00"/><circle cx="485.3" cy="336.4" r="4.00"/><circle cx="491.0" cy="331.4" r="4.00"/><circle cx="495.0" cy="327.0" r="4.00"/></g>
<g class="mkf"><rect x="259.7" y="518.2" width="6.6" height="6.6"/><rect x="261.5" y="499.0" width="6.6" height="6.6"/><rect x="263.9" y="485.7" width="6.6" height="6.6"/><rect x="267.5" y="475.0" width="6.6" height="6.6"/><rect x="271.1" y="465.4" width="6.6" height="6.6"/><rect x="273.7" y="459.7" width="6.6" height="6.6"/><rect x="276.1" y="454.9" width="6.6" height="6.6"/><rect x="278.5" y="450.4" width="6.6" height="6.6"/><rect x="280.9" y="445.8" width="6.6" height="6.6"/><rect x="283.3" y="440.9" width="6.6" height="6.6"/><rect x="285.7" y="436.1" width="6.6" height="6.6"/><rect x="288.1" y="431.9" width="6.6" height="6.6"/><rect x="290.5" y="428.0" width="6.6" height="6.6"/><rect x="292.9" y="424.5" width="6.6" height="6.6"/><rect x="295.3" y="421.6" width="6.6" height="6.6"/><rect x="297.7" y="419.3" width="6.6" height="6.6"/><rect x="300.1" y="417.1" width="6.6" height="6.6"/><rect x="302.5" y="415.0" width="6.6" height="6.6"/><rect x="304.9" y="413.1" width="6.6" height="6.6"/><rect x="307.3" y="411.1" width="6.6" height="6.6"/><rect x="309.7" y="408.9" width="6.6" height="6.6"/><rect x="312.1" y="406.5" width="6.6" height="6.6"/><rect x="314.5" y="404.1" width="6.6" height="6.6"/><rect x="316.9" y="401.4" width="6.6" height="6.6"/><rect x="319.3" y="398.6" width="6.6" height="6.6"/><rect x="321.7" y="395.8" width="6.6" height="6.6"/><rect x="324.1" y="393.1" width="6.6" height="6.6"/><rect x="326.5" y="390.8" width="6.6" height="6.6"/><rect x="328.9" y="389.6" width="6.6" height="6.6"/><rect x="332.4" y="388.1" width="6.6" height="6.6"/><rect x="335.9" y="386.9" width="6.6" height="6.6"/><rect x="339.4" y="386.0" width="6.6" height="6.6"/><rect x="342.9" y="385.4" width="6.6" height="6.6"/><rect x="346.4" y="384.8" width="6.6" height="6.6"/><rect x="349.9" y="383.5" width="6.6" height="6.6"/><rect x="353.4" y="382.7" width="6.6" height="6.6"/><rect x="356.9" y="383.2" width="6.6" height="6.6"/><rect x="360.4" y="383.8" width="6.6" height="6.6"/><rect x="363.9" y="384.3" width="6.6" height="6.6"/><rect x="367.4" y="384.8" width="6.6" height="6.6"/><rect x="370.9" y="385.7" width="6.6" height="6.6"/><rect x="374.4" y="386.6" width="6.6" height="6.6"/><rect x="377.9" y="387.4" width="6.6" height="6.6"/><rect x="381.4" y="387.7" width="6.6" height="6.6"/><rect x="384.9" y="387.4" width="6.6" height="6.6"/><rect x="388.4" y="386.3" width="6.6" height="6.6"/><rect x="391.9" y="384.8" width="6.6" height="6.6"/><rect x="395.4" y="383.2" width="6.6" height="6.6"/><rect x="398.9" y="381.8" width="6.6" height="6.6"/><rect x="402.4" y="380.4" width="6.6" height="6.6"/><rect x="405.9" y="378.8" width="6.6" height="6.6"/><rect x="409.4" y="377.3" width="6.6" height="6.6"/><rect x="415.0" y="374.6" width="6.6" height="6.6"/><rect x="420.6" y="371.9" width="6.6" height="6.6"/><rect x="426.2" y="369.0" width="6.6" height="6.6"/><rect x="431.8" y="366.3" width="6.6" height="6.6"/><rect x="437.4" y="364.4" width="6.6" height="6.6"/><rect x="443.0" y="363.0" width="6.6" height="6.6"/><rect x="448.6" y="360.4" width="6.6" height="6.6"/><rect x="454.2" y="356.6" width="6.6" height="6.6"/><rect x="459.8" y="351.6" width="6.6" height="6.6"/><rect x="465.4" y="348.4" width="6.6" height="6.6"/><rect x="471.0" y="345.4" width="6.6" height="6.6"/><rect x="476.6" y="340.2" width="6.6" height="6.6"/><rect x="482.2" y="333.5" width="6.6" height="6.6"/><rect x="486.7" y="328.7" width="6.6" height="6.6"/></g>
<rect x="323.8" y="434.6" width="172.7" height="152.3" fill="#fff" class="ax"/>
<path class="ax" d="M349.5 434.6v10M349.5 586.9v-9M402.0 434.6v10M402.0 586.9v-9M454.5 434.6v10M454.5 586.9v-9M323.8 509.2h9M496.5 509.2h-9"/>
<text x="262.3" y="515" font-size="16.6">0.0002</text>
<text x="262.3" y="592.4" font-size="16.6">0.0000</text>
<text transform="translate(251,591.5) rotate(-90)" font-size="16.6">Y<tspan font-size="14" dy="-7.5">1/2</tspan><tspan dy="7.5"> (R.U.)</tspan></text>
<text x="286.4" y="610.8" font-size="16.6">hν (eV)</text>
<text x="349.5" y="611" font-size="16.6" text-anchor="middle">4</text>
<text x="402.0" y="611" font-size="16.6" text-anchor="middle">5</text>
<text x="454.5" y="611" font-size="16.6" text-anchor="middle">6</text>
<text x="373.6" y="464" font-size="19.3">E<tspan font-size="13.2" dy="5.2">g</tspan><tspan dy="-5.2">(Al</tspan><tspan font-size="13.2" dy="5.2">2</tspan><tspan dy="-5.2">O</tspan><tspan font-size="13.2" dy="5.2">3</tspan><tspan dy="-5.2">)</tspan></text>
<text x="344.2" y="513.2" font-size="19.3">E<tspan font-size="13.2" dy="5.2">g</tspan><tspan dy="-5.2">(Ga</tspan><tspan font-size="13.2" dy="5.2">2</tspan><tspan dy="-5.2">O</tspan><tspan font-size="13.2" dy="5.2">3</tspan><tspan dy="-5.2">)</tspan></text>
<path class="ln" stroke-width="1.3" d="M350.6 514V574M343.8 549L350.6 574L357.4 549M464.6 457V521M458.2 497L464.6 521L471 497"/>
<g class="mkf"><rect x="316.4" y="579.5" width="7.2" height="7.2"/><rect x="318.0" y="579.5" width="7.2" height="7.2"/><rect x="319.6" y="579.6" width="7.2" height="7.2"/><rect x="321.2" y="579.6" width="7.2" height="7.2"/><rect x="322.8" y="579.7" width="7.2" height="7.2"/><rect x="324.4" y="579.8" width="7.2" height="7.2"/><rect x="326.0" y="579.8" width="7.2" height="7.2"/><rect x="327.6" y="579.9" width="7.2" height="7.2"/><rect x="329.2" y="580.0" width="7.2" height="7.2"/><rect x="330.8" y="580.0" width="7.2" height="7.2"/><rect x="332.4" y="580.1" width="7.2" height="7.2"/><rect x="334.0" y="580.2" width="7.2" height="7.2"/><rect x="335.6" y="580.2" width="7.2" height="7.2"/><rect x="337.2" y="580.3" width="7.2" height="7.2"/><rect x="338.8" y="580.3" width="7.2" height="7.2"/><rect x="340.4" y="580.3" width="7.2" height="7.2"/><rect x="342.0" y="580.4" width="7.2" height="7.2"/><rect x="343.6" y="580.4" width="7.2" height="7.2"/><rect x="345.2" y="580.4" width="7.2" height="7.2"/><rect x="346.8" y="580.4" width="7.2" height="7.2"/><rect x="348.4" y="580.4" width="7.2" height="7.2"/><rect x="350.0" y="580.4" width="7.2" height="7.2"/><rect x="351.6" y="580.3" width="7.2" height="7.2"/><rect x="353.2" y="580.3" width="7.2" height="7.2"/><rect x="354.8" y="580.2" width="7.2" height="7.2"/><rect x="356.4" y="580.1" width="7.2" height="7.2"/><rect x="358.0" y="580.0" width="7.2" height="7.2"/><rect x="359.6" y="579.9" width="7.2" height="7.2"/><rect x="361.2" y="579.8" width="7.2" height="7.2"/><rect x="362.8" y="579.7" width="7.2" height="7.2"/><rect x="364.4" y="579.6" width="7.2" height="7.2"/><rect x="366.0" y="579.4" width="7.2" height="7.2"/><rect x="367.6" y="579.3" width="7.2" height="7.2"/><rect x="369.2" y="579.1" width="7.2" height="7.2"/><rect x="370.8" y="578.9" width="7.2" height="7.2"/><rect x="372.4" y="578.8" width="7.2" height="7.2"/><rect x="374.0" y="578.6" width="7.2" height="7.2"/><rect x="375.6" y="578.3" width="7.2" height="7.2"/><rect x="377.2" y="578.1" width="7.2" height="7.2"/><rect x="378.8" y="577.9" width="7.2" height="7.2"/><rect x="380.4" y="577.7" width="7.2" height="7.2"/><rect x="382.0" y="577.5" width="7.2" height="7.2"/><rect x="383.6" y="577.3" width="7.2" height="7.2"/><rect x="385.2" y="577.0" width="7.2" height="7.2"/><rect x="386.8" y="576.8" width="7.2" height="7.2"/><rect x="388.4" y="576.6" width="7.2" height="7.2"/><rect x="390.0" y="576.4" width="7.2" height="7.2"/><rect x="391.6" y="576.3" width="7.2" height="7.2"/><rect x="393.2" y="576.1" width="7.2" height="7.2"/><rect x="394.8" y="575.9" width="7.2" height="7.2"/><rect x="396.4" y="575.8" width="7.2" height="7.2"/><rect x="398.0" y="575.6" width="7.2" height="7.2"/><rect x="399.6" y="575.5" width="7.2" height="7.2"/><rect x="401.2" y="575.3" width="7.2" height="7.2"/><rect x="402.8" y="575.2" width="7.2" height="7.2"/><rect x="404.4" y="575.0" width="7.2" height="7.2"/><rect x="406.0" y="574.9" width="7.2" height="7.2"/><rect x="407.6" y="574.8" width="7.2" height="7.2"/><rect x="409.2" y="574.7" width="7.2" height="7.2"/><rect x="410.8" y="574.7" width="7.2" height="7.2"/><rect x="412.4" y="574.6" width="7.2" height="7.2"/><rect x="414.0" y="574.5" width="7.2" height="7.2"/><rect x="415.6" y="574.5" width="7.2" height="7.2"/><rect x="417.2" y="574.4" width="7.2" height="7.2"/><rect x="418.8" y="574.3" width="7.2" height="7.2"/><rect x="420.4" y="574.3" width="7.2" height="7.2"/><rect x="422.0" y="574.2" width="7.2" height="7.2"/><rect x="423.6" y="574.1" width="7.2" height="7.2"/><rect x="425.2" y="574.0" width="7.2" height="7.2"/><rect x="426.8" y="573.9" width="7.2" height="7.2"/><rect x="428.4" y="573.7" width="7.2" height="7.2"/><rect x="430.0" y="573.6" width="7.2" height="7.2"/><rect x="431.6" y="573.5" width="7.2" height="7.2"/><rect x="433.2" y="573.4" width="7.2" height="7.2"/><rect x="434.8" y="573.3" width="7.2" height="7.2"/><rect x="436.4" y="573.2" width="7.2" height="7.2"/><rect x="438.0" y="573.0" width="7.2" height="7.2"/><rect x="439.6" y="572.8" width="7.2" height="7.2"/><rect x="441.2" y="572.7" width="7.2" height="7.2"/><rect x="442.8" y="572.4" width="7.2" height="7.2"/><rect x="444.4" y="572.2" width="7.2" height="7.2"/><rect x="446.0" y="571.9" width="7.2" height="7.2"/><rect x="447.6" y="571.6" width="7.2" height="7.2"/><rect x="449.2" y="571.2" width="7.2" height="7.2"/><rect x="450.8" y="570.6" width="7.2" height="7.2"/><rect x="452.4" y="569.9" width="7.2" height="7.2"/><rect x="456.0" y="567.9" width="7.2" height="7.2"/><rect x="459.6" y="565.6" width="7.2" height="7.2"/><rect x="463.2" y="562.7" width="7.2" height="7.2"/><rect x="466.8" y="559.5" width="7.2" height="7.2"/><rect x="470.4" y="556.2" width="7.2" height="7.2"/><rect x="474.0" y="552.8" width="7.2" height="7.2"/><rect x="477.6" y="549.4" width="7.2" height="7.2"/><rect x="481.2" y="545.6" width="7.2" height="7.2"/><rect x="484.8" y="540.9" width="7.2" height="7.2"/><rect x="488.4" y="536.3" width="7.2" height="7.2"/><rect x="490.4" y="534.4" width="7.2" height="7.2"/></g>
<g class="mkf"><circle cx="320.0" cy="582.0" r="3.90"/><circle cx="321.6" cy="582.1" r="3.90"/><circle cx="323.2" cy="582.1" r="3.90"/><circle cx="324.8" cy="582.1" r="3.90"/><circle cx="326.4" cy="582.2" r="3.90"/><circle cx="328.0" cy="582.2" r="3.90"/><circle cx="329.6" cy="582.2" r="3.90"/><circle cx="331.2" cy="582.3" r="3.90"/><circle cx="332.8" cy="582.3" r="3.90"/><circle cx="334.4" cy="582.4" r="3.90"/><circle cx="336.0" cy="582.4" r="3.90"/><circle cx="337.6" cy="582.4" r="3.90"/><circle cx="339.2" cy="582.5" r="3.90"/><circle cx="340.8" cy="582.5" r="3.90"/><circle cx="342.4" cy="582.5" r="3.90"/><circle cx="344.0" cy="582.5" r="3.90"/><circle cx="345.6" cy="582.5" r="3.90"/><circle cx="347.2" cy="582.5" r="3.90"/><circle cx="348.8" cy="582.5" r="3.90"/><circle cx="350.4" cy="582.5" r="3.90"/><circle cx="352.0" cy="582.5" r="3.90"/><circle cx="353.6" cy="582.4" r="3.90"/><circle cx="355.2" cy="582.4" r="3.90"/><circle cx="356.8" cy="582.3" r="3.90"/><circle cx="358.4" cy="582.3" r="3.90"/><circle cx="360.0" cy="582.2" r="3.90"/><circle cx="361.6" cy="582.1" r="3.90"/><circle cx="363.2" cy="582.0" r="3.90"/><circle cx="364.8" cy="581.9" r="3.90"/><circle cx="366.4" cy="581.8" r="3.90"/><circle cx="368.0" cy="581.7" r="3.90"/><circle cx="369.6" cy="581.5" r="3.90"/><circle cx="371.2" cy="581.4" r="3.90"/><circle cx="372.8" cy="581.2" r="3.90"/><circle cx="374.4" cy="581.0" r="3.90"/><circle cx="376.0" cy="580.9" r="3.90"/><circle cx="377.6" cy="580.7" r="3.90"/><circle cx="379.2" cy="580.4" r="3.90"/><circle cx="380.8" cy="580.2" r="3.90"/><circle cx="382.4" cy="580.0" r="3.90"/><circle cx="384.0" cy="579.8" r="3.90"/><circle cx="385.6" cy="579.6" r="3.90"/><circle cx="387.2" cy="579.4" r="3.90"/><circle cx="388.8" cy="579.1" r="3.90"/><circle cx="390.4" cy="578.9" r="3.90"/><circle cx="392.0" cy="578.7" r="3.90"/><circle cx="393.6" cy="578.5" r="3.90"/><circle cx="395.2" cy="578.4" r="3.90"/><circle cx="396.8" cy="578.2" r="3.90"/><circle cx="398.4" cy="578.0" r="3.90"/><circle cx="400.0" cy="577.9" r="3.90"/><circle cx="401.6" cy="577.7" r="3.90"/><circle cx="403.2" cy="577.6" r="3.90"/><circle cx="404.8" cy="577.4" r="3.90"/><circle cx="406.4" cy="577.3" r="3.90"/><circle cx="408.0" cy="577.2" r="3.90"/><circle cx="409.6" cy="577.0" r="3.90"/><circle cx="411.2" cy="576.9" r="3.90"/><circle cx="412.8" cy="576.8" r="3.90"/><circle cx="414.4" cy="576.7" r="3.90"/><circle cx="416.0" cy="576.6" r="3.90"/><circle cx="417.6" cy="576.5" r="3.90"/><circle cx="419.2" cy="576.4" r="3.90"/><circle cx="420.8" cy="576.3" r="3.90"/><circle cx="422.4" cy="576.2" r="3.90"/><circle cx="424.0" cy="576.1" r="3.90"/><circle cx="425.6" cy="575.9" r="3.90"/><circle cx="427.2" cy="575.8" r="3.90"/><circle cx="428.8" cy="575.6" r="3.90"/><circle cx="430.4" cy="575.5" r="3.90"/><circle cx="432.0" cy="575.3" r="3.90"/><circle cx="433.6" cy="575.1" r="3.90"/><circle cx="435.2" cy="574.9" r="3.90"/><circle cx="436.8" cy="574.7" r="3.90"/><circle cx="438.4" cy="574.4" r="3.90"/><circle cx="440.0" cy="574.2" r="3.90"/><circle cx="441.6" cy="574.0" r="3.90"/><circle cx="443.2" cy="573.7" r="3.90"/><circle cx="444.8" cy="573.5" r="3.90"/><circle cx="446.4" cy="573.2" r="3.90"/><circle cx="448.0" cy="572.9" r="3.90"/><circle cx="449.6" cy="572.5" r="3.90"/><circle cx="451.2" cy="572.2" r="3.90"/><circle cx="452.8" cy="571.8" r="3.90"/><circle cx="454.4" cy="571.4" r="3.90"/><circle cx="456.0" cy="570.9" r="3.90"/><circle cx="459.4" cy="569.5" r="3.90"/><circle cx="462.8" cy="567.4" r="3.90"/><circle cx="466.2" cy="564.0" r="3.90"/><circle cx="469.6" cy="560.4" r="3.90"/><circle cx="473.0" cy="557.3" r="3.90"/><circle cx="476.4" cy="554.4" r="3.90"/><circle cx="479.8" cy="551.6" r="3.90"/><circle cx="483.2" cy="549.1" r="3.90"/><circle cx="486.6" cy="545.4" r="3.90"/><circle cx="490.0" cy="539.6" r="3.90"/><circle cx="493.4" cy="534.2" r="3.90"/><circle cx="496.8" cy="531.3" r="3.90"/></g>
<g class="mk"><rect x="316.1" y="576.9" width="7.8" height="7.8"/><rect x="317.7" y="576.8" width="7.8" height="7.8"/><rect x="319.3" y="576.6" width="7.8" height="7.8"/><rect x="320.9" y="576.5" width="7.8" height="7.8"/><rect x="322.5" y="576.4" width="7.8" height="7.8"/><rect x="324.1" y="576.2" width="7.8" height="7.8"/><rect x="325.7" y="576.1" width="7.8" height="7.8"/><rect x="327.3" y="576.0" width="7.8" height="7.8"/><rect x="328.9" y="575.9" width="7.8" height="7.8"/><rect x="330.5" y="575.9" width="7.8" height="7.8"/><rect x="332.1" y="575.8" width="7.8" height="7.8"/><rect x="333.7" y="575.8" width="7.8" height="7.8"/><rect x="335.3" y="575.7" width="7.8" height="7.8"/><rect x="336.9" y="575.6" width="7.8" height="7.8"/><rect x="338.5" y="575.6" width="7.8" height="7.8"/><rect x="340.1" y="575.5" width="7.8" height="7.8"/><rect x="341.7" y="575.4" width="7.8" height="7.8"/><rect x="343.3" y="575.3" width="7.8" height="7.8"/><rect x="344.9" y="575.2" width="7.8" height="7.8"/><rect x="346.5" y="575.1" width="7.8" height="7.8"/><rect x="348.1" y="574.9" width="7.8" height="7.8"/><rect x="349.7" y="574.7" width="7.8" height="7.8"/><rect x="351.3" y="574.5" width="7.8" height="7.8"/><rect x="352.9" y="574.2" width="7.8" height="7.8"/><rect x="354.5" y="573.9" width="7.8" height="7.8"/><rect x="356.1" y="573.6" width="7.8" height="7.8"/><rect x="357.7" y="573.2" width="7.8" height="7.8"/><rect x="359.3" y="572.8" width="7.8" height="7.8"/><rect x="360.9" y="572.3" width="7.8" height="7.8"/><rect x="362.5" y="571.7" width="7.8" height="7.8"/><rect x="364.1" y="571.1" width="7.8" height="7.8"/><rect x="365.7" y="570.5" width="7.8" height="7.8"/><rect x="367.3" y="569.9" width="7.8" height="7.8"/><rect x="368.9" y="569.3" width="7.8" height="7.8"/><rect x="370.5" y="568.8" width="7.8" height="7.8"/><rect x="372.1" y="568.2" width="7.8" height="7.8"/><rect x="373.7" y="567.7" width="7.8" height="7.8"/><rect x="375.3" y="567.3" width="7.8" height="7.8"/><rect x="376.9" y="566.9" width="7.8" height="7.8"/><rect x="378.5" y="566.5" width="7.8" height="7.8"/><rect x="380.1" y="566.1" width="7.8" height="7.8"/><rect x="381.7" y="565.7" width="7.8" height="7.8"/><rect x="383.3" y="565.4" width="7.8" height="7.8"/><rect x="384.9" y="565.1" width="7.8" height="7.8"/><rect x="386.5" y="564.8" width="7.8" height="7.8"/><rect x="388.1" y="564.5" width="7.8" height="7.8"/><rect x="389.7" y="564.2" width="7.8" height="7.8"/><rect x="391.3" y="563.9" width="7.8" height="7.8"/><rect x="392.9" y="563.6" width="7.8" height="7.8"/><rect x="394.5" y="563.3" width="7.8" height="7.8"/><rect x="396.1" y="563.1" width="7.8" height="7.8"/><rect x="397.7" y="562.8" width="7.8" height="7.8"/><rect x="399.3" y="562.6" width="7.8" height="7.8"/><rect x="400.9" y="562.3" width="7.8" height="7.8"/><rect x="402.5" y="562.1" width="7.8" height="7.8"/><rect x="404.1" y="561.9" width="7.8" height="7.8"/><rect x="405.7" y="561.7" width="7.8" height="7.8"/><rect x="407.3" y="561.4" width="7.8" height="7.8"/><rect x="408.9" y="561.2" width="7.8" height="7.8"/><rect x="410.5" y="561.0" width="7.8" height="7.8"/><rect x="412.1" y="560.8" width="7.8" height="7.8"/><rect x="413.7" y="560.6" width="7.8" height="7.8"/><rect x="415.3" y="560.4" width="7.8" height="7.8"/><rect x="416.9" y="560.3" width="7.8" height="7.8"/><rect x="418.5" y="560.1" width="7.8" height="7.8"/><rect x="420.1" y="559.9" width="7.8" height="7.8"/><rect x="421.7" y="559.7" width="7.8" height="7.8"/><rect x="423.3" y="559.5" width="7.8" height="7.8"/><rect x="424.9" y="559.3" width="7.8" height="7.8"/><rect x="426.5" y="559.1" width="7.8" height="7.8"/><rect x="428.1" y="559.0" width="7.8" height="7.8"/><rect x="429.7" y="558.8" width="7.8" height="7.8"/><rect x="431.3" y="558.6" width="7.8" height="7.8"/><rect x="432.9" y="558.4" width="7.8" height="7.8"/><rect x="434.5" y="558.3" width="7.8" height="7.8"/><rect x="436.1" y="558.1" width="7.8" height="7.8"/><rect x="438.7" y="557.9" width="7.8" height="7.8"/><rect x="441.3" y="557.8" width="7.8" height="7.8"/><rect x="443.9" y="557.7" width="7.8" height="7.8"/><rect x="446.5" y="557.4" width="7.8" height="7.8"/><rect x="449.1" y="556.8" width="7.8" height="7.8"/><rect x="451.7" y="555.8" width="7.8" height="7.8"/><rect x="454.3" y="553.9" width="7.8" height="7.8"/><rect x="456.9" y="550.6" width="7.8" height="7.8"/><rect x="459.5" y="546.4" width="7.8" height="7.8"/><rect x="462.1" y="541.5" width="7.8" height="7.8"/><rect x="464.7" y="536.0" width="7.8" height="7.8"/><rect x="467.3" y="529.4" width="7.8" height="7.8"/><rect x="469.9" y="518.6" width="7.8" height="7.8"/><rect x="472.5" y="507.3" width="7.8" height="7.8"/><rect x="475.1" y="494.1" width="7.8" height="7.8"/><rect x="477.7" y="480.0" width="7.8" height="7.8"/><rect x="480.3" y="468.5" width="7.8" height="7.8"/><rect x="482.9" y="463.3" width="7.8" height="7.8"/><rect x="485.1" y="456.1" width="7.8" height="7.8"/><rect x="487.1" y="432.6" width="7.8" height="7.8"/></g>
<g class="mk"><circle cx="320.0" cy="579.8" r="4.40"/><circle cx="321.6" cy="579.7" r="4.40"/><circle cx="323.2" cy="579.5" r="4.40"/><circle cx="324.8" cy="579.4" r="4.40"/><circle cx="326.4" cy="579.3" r="4.40"/><circle cx="328.0" cy="579.1" r="4.40"/><circle cx="329.6" cy="579.0" r="4.40"/><circle cx="331.2" cy="578.9" r="4.40"/><circle cx="332.8" cy="578.8" r="4.40"/><circle cx="334.4" cy="578.8" r="4.40"/><circle cx="336.0" cy="578.7" r="4.40"/><circle cx="337.6" cy="578.7" r="4.40"/><circle cx="339.2" cy="578.6" r="4.40"/><circle cx="340.8" cy="578.5" r="4.40"/><circle cx="342.4" cy="578.5" r="4.40"/><circle cx="344.0" cy="578.4" r="4.40"/><circle cx="345.6" cy="578.3" r="4.40"/><circle cx="347.2" cy="578.2" r="4.40"/><circle cx="348.8" cy="578.1" r="4.40"/><circle cx="350.4" cy="578.0" r="4.40"/><circle cx="352.0" cy="577.8" r="4.40"/><circle cx="353.6" cy="577.6" r="4.40"/><circle cx="355.2" cy="577.4" r="4.40"/><circle cx="356.8" cy="577.1" r="4.40"/><circle cx="358.4" cy="576.8" r="4.40"/><circle cx="360.0" cy="576.5" r="4.40"/><circle cx="361.6" cy="576.1" r="4.40"/><circle cx="363.2" cy="575.7" r="4.40"/><circle cx="364.8" cy="575.2" r="4.40"/><circle cx="366.4" cy="574.6" r="4.40"/><circle cx="368.0" cy="574.0" r="4.40"/><circle cx="369.6" cy="573.4" r="4.40"/><circle cx="371.2" cy="572.8" r="4.40"/><circle cx="372.8" cy="572.2" r="4.40"/><circle cx="374.4" cy="571.7" r="4.40"/><circle cx="376.0" cy="571.1" r="4.40"/><circle cx="377.6" cy="570.6" r="4.40"/><circle cx="379.2" cy="570.2" r="4.40"/><circle cx="380.8" cy="569.8" r="4.40"/><circle cx="382.4" cy="569.4" r="4.40"/><circle cx="384.0" cy="569.0" r="4.40"/><circle cx="385.6" cy="568.6" r="4.40"/><circle cx="387.2" cy="568.3" r="4.40"/><circle cx="388.8" cy="568.0" r="4.40"/><circle cx="390.4" cy="567.7" r="4.40"/><circle cx="392.0" cy="567.4" r="4.40"/><circle cx="393.6" cy="567.1" r="4.40"/><circle cx="395.2" cy="566.8" r="4.40"/><circle cx="396.8" cy="566.5" r="4.40"/><circle cx="398.4" cy="566.2" r="4.40"/><circle cx="400.0" cy="566.0" r="4.40"/><circle cx="401.6" cy="565.7" r="4.40"/><circle cx="403.2" cy="565.5" r="4.40"/><circle cx="404.8" cy="565.3" r="4.40"/><circle cx="406.4" cy="565.0" r="4.40"/><circle cx="408.0" cy="564.8" r="4.40"/><circle cx="409.6" cy="564.6" r="4.40"/><circle cx="411.2" cy="564.5" r="4.40"/><circle cx="412.8" cy="564.3" r="4.40"/><circle cx="414.4" cy="564.2" r="4.40"/><circle cx="416.0" cy="564.1" r="4.40"/><circle cx="417.6" cy="564.1" r="4.40"/><circle cx="419.2" cy="564.0" r="4.40"/><circle cx="420.8" cy="563.9" r="4.40"/><circle cx="422.4" cy="563.8" r="4.40"/><circle cx="424.0" cy="563.6" r="4.40"/><circle cx="425.6" cy="563.4" r="4.40"/><circle cx="427.2" cy="563.2" r="4.40"/><circle cx="428.8" cy="563.0" r="4.40"/><circle cx="430.4" cy="562.8" r="4.40"/><circle cx="432.0" cy="562.6" r="4.40"/><circle cx="433.6" cy="562.3" r="4.40"/><circle cx="435.2" cy="562.1" r="4.40"/><circle cx="436.8" cy="561.7" r="4.40"/><circle cx="438.4" cy="561.4" r="4.40"/><circle cx="440.0" cy="561.0" r="4.40"/><circle cx="443.0" cy="560.0" r="4.40"/><circle cx="446.0" cy="558.0" r="4.40"/><circle cx="449.0" cy="552.9" r="4.40"/><circle cx="452.0" cy="548.9" r="4.40"/><circle cx="455.0" cy="545.4" r="4.40"/><circle cx="458.0" cy="541.2" r="4.40"/><circle cx="461.0" cy="536.0" r="4.40"/><circle cx="464.0" cy="529.8" r="4.40"/><circle cx="467.0" cy="524.6" r="4.40"/><circle cx="470.0" cy="518.2" r="4.40"/><circle cx="473.0" cy="505.5" r="4.40"/><circle cx="476.0" cy="493.0" r="4.40"/><circle cx="479.0" cy="477.0" r="4.40"/><circle cx="482.0" cy="462.0" r="4.40"/></g>
<path class="ln" stroke-width="1.2" d="M461.6 563.4L491 436M395 565.6L442.4 546.4M420 578.6L493.6 568"/>
</svg>
</body></html>
